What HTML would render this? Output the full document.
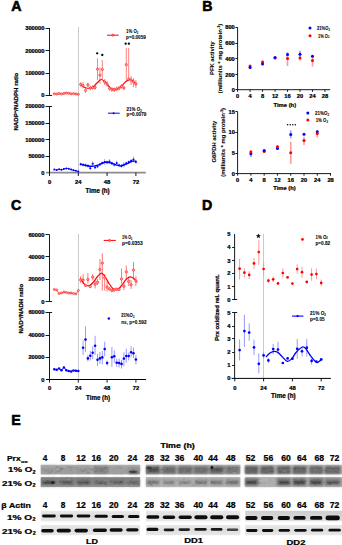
<!DOCTYPE html>
<html><head><meta charset="utf-8"><style>
html,body{margin:0;padding:0;background:#fff;}
svg{display:block;font-family:"Liberation Sans",sans-serif;font-weight:bold;}
</style></head><body>
<svg width="342" height="545" viewBox="0 0 342 545">
<rect width="342" height="545" fill="#fff"/>
<text x="11.20" y="11.20" font-size="14.2" text-anchor="start" fill="#000" stroke="#000" stroke-width="0.6" >A</text>
<text x="202.20" y="11.20" font-size="14.2" text-anchor="start" fill="#000" stroke="#000" stroke-width="0.6" >B</text>
<text x="10.90" y="209.90" font-size="14.2" text-anchor="start" fill="#000" stroke="#000" stroke-width="0.6" >C</text>
<text x="201.90" y="209.90" font-size="14.2" text-anchor="start" fill="#000" stroke="#000" stroke-width="0.6" >D</text>
<text x="11.20" y="424.90" font-size="14.2" text-anchor="start" fill="#000" stroke="#000" stroke-width="0.6" >E</text>
<line x1="78.50" y1="27.00" x2="78.50" y2="172.00" stroke="#bdbdbd" stroke-width="0.8" />
<line x1="49.50" y1="28.00" x2="49.50" y2="95.00" stroke="#000" stroke-width="0.9" />
<line x1="45.50" y1="28.50" x2="49.50" y2="28.50" stroke="#000" stroke-width="0.9" />
<text x="44.50" y="30.09" font-size="5.8" text-anchor="end" fill="#000" stroke="#000" stroke-width="0.24" >300000</text>
<line x1="45.50" y1="50.50" x2="49.50" y2="50.50" stroke="#000" stroke-width="0.9" />
<text x="44.50" y="52.59" font-size="5.8" text-anchor="end" fill="#000" stroke="#000" stroke-width="0.24" >200000</text>
<line x1="45.50" y1="73.50" x2="49.50" y2="73.50" stroke="#000" stroke-width="0.9" />
<text x="44.50" y="75.09" font-size="5.8" text-anchor="end" fill="#000" stroke="#000" stroke-width="0.24" >100000</text>
<line x1="45.50" y1="95.50" x2="52.10" y2="95.50" stroke="#000" stroke-width="0.9" />
<text x="44.50" y="97.09" font-size="5.8" text-anchor="end" fill="#000" stroke="#000" stroke-width="0.24" >0</text>
<line x1="49.50" y1="106.00" x2="49.50" y2="172.60" stroke="#000" stroke-width="0.9" />
<line x1="45.50" y1="106.50" x2="52.10" y2="106.50" stroke="#000" stroke-width="0.9" />
<text x="44.50" y="108.09" font-size="5.8" text-anchor="end" fill="#000" stroke="#000" stroke-width="0.24" >200000</text>
<line x1="45.50" y1="123.50" x2="49.50" y2="123.50" stroke="#000" stroke-width="0.9" />
<text x="44.50" y="125.09" font-size="5.8" text-anchor="end" fill="#000" stroke="#000" stroke-width="0.24" >150000</text>
<line x1="45.50" y1="139.50" x2="49.50" y2="139.50" stroke="#000" stroke-width="0.9" />
<text x="44.50" y="141.59" font-size="5.8" text-anchor="end" fill="#000" stroke="#000" stroke-width="0.24" >100000</text>
<line x1="45.50" y1="156.50" x2="49.50" y2="156.50" stroke="#000" stroke-width="0.9" />
<text x="44.50" y="158.09" font-size="5.8" text-anchor="end" fill="#000" stroke="#000" stroke-width="0.24" >50000</text>
<text x="44.50" y="174.69" font-size="5.8" text-anchor="end" fill="#000" stroke="#000" stroke-width="0.24" >0</text>
<line x1="46.00" y1="172.60" x2="145.80" y2="172.60" stroke="#8c8c8c" stroke-width="1.9" />
<line x1="49.50" y1="171.00" x2="49.50" y2="176.00" stroke="#000" stroke-width="0.9" />
<line x1="78.30" y1="172.60" x2="78.30" y2="176.00" stroke="#000" stroke-width="0.9" />
<line x1="107.10" y1="172.60" x2="107.10" y2="176.00" stroke="#000" stroke-width="0.9" />
<line x1="135.90" y1="172.60" x2="135.90" y2="176.00" stroke="#000" stroke-width="0.9" />
<text x="49.50" y="183.69" font-size="5.8" text-anchor="middle" fill="#000" stroke="#000" stroke-width="0.24" >0</text>
<text x="78.30" y="183.69" font-size="5.8" text-anchor="middle" fill="#000" stroke="#000" stroke-width="0.24" >24</text>
<text x="107.10" y="183.69" font-size="5.8" text-anchor="middle" fill="#000" stroke="#000" stroke-width="0.24" >48</text>
<text x="135.90" y="183.69" font-size="5.8" text-anchor="middle" fill="#000" stroke="#000" stroke-width="0.24" >72</text>
<text x="97.60" y="193.18" font-size="6.6" text-anchor="middle" fill="#000" stroke="#000" stroke-width="0.24" textLength="24.00" lengthAdjust="spacingAndGlyphs" >Time (h)</text>
<text transform="translate(18.30 101.60) rotate(-90)" font-size="6.1" text-anchor="middle" stroke="#000" stroke-width="0.24">NADP<tspan font-size="4" dy="-2">+</tspan><tspan dy="2">/NADPH ratio</tspan></text>
<line x1="80.70" y1="82.30" x2="80.70" y2="86.70" stroke="#ff6a6a" stroke-width="0.85" />
<line x1="83.10" y1="82.00" x2="83.10" y2="88.50" stroke="#ff6a6a" stroke-width="0.85" />
<line x1="85.50" y1="88.30" x2="85.50" y2="92.70" stroke="#ff6a6a" stroke-width="0.85" />
<line x1="87.90" y1="82.70" x2="87.90" y2="87.10" stroke="#ff6a6a" stroke-width="0.85" />
<line x1="90.30" y1="85.80" x2="90.30" y2="90.20" stroke="#ff6a6a" stroke-width="0.85" />
<line x1="92.70" y1="85.30" x2="92.70" y2="89.70" stroke="#ff6a6a" stroke-width="0.85" />
<line x1="95.10" y1="85.30" x2="95.10" y2="89.70" stroke="#ff6a6a" stroke-width="0.85" />
<line x1="97.50" y1="58.50" x2="97.50" y2="80.00" stroke="#ff6a6a" stroke-width="0.85" />
<line x1="99.90" y1="67.50" x2="99.90" y2="84.00" stroke="#ff6a6a" stroke-width="0.85" />
<line x1="102.30" y1="60.00" x2="102.30" y2="79.50" stroke="#ff6a6a" stroke-width="0.85" />
<line x1="104.70" y1="79.00" x2="104.70" y2="85.00" stroke="#ff6a6a" stroke-width="0.85" />
<line x1="107.10" y1="81.00" x2="107.10" y2="87.00" stroke="#ff6a6a" stroke-width="0.85" />
<line x1="109.50" y1="86.30" x2="109.50" y2="90.70" stroke="#ff6a6a" stroke-width="0.85" />
<line x1="111.90" y1="87.30" x2="111.90" y2="91.70" stroke="#ff6a6a" stroke-width="0.85" />
<line x1="114.30" y1="87.60" x2="114.30" y2="92.00" stroke="#ff6a6a" stroke-width="0.85" />
<line x1="116.70" y1="86.60" x2="116.70" y2="91.00" stroke="#ff6a6a" stroke-width="0.85" />
<line x1="119.10" y1="86.00" x2="119.10" y2="90.40" stroke="#ff6a6a" stroke-width="0.85" />
<line x1="121.50" y1="84.30" x2="121.50" y2="88.70" stroke="#ff6a6a" stroke-width="0.85" />
<line x1="123.90" y1="85.70" x2="123.90" y2="90.10" stroke="#ff6a6a" stroke-width="0.85" />
<line x1="126.30" y1="48.00" x2="126.30" y2="81.40" stroke="#ff6a6a" stroke-width="0.85" />
<line x1="128.70" y1="48.00" x2="128.70" y2="81.00" stroke="#ff6a6a" stroke-width="0.85" />
<line x1="131.10" y1="76.00" x2="131.10" y2="85.00" stroke="#ff6a6a" stroke-width="0.85" />
<line x1="133.50" y1="78.00" x2="133.50" y2="87.00" stroke="#ff6a6a" stroke-width="0.85" />
<line x1="135.90" y1="80.00" x2="135.90" y2="88.00" stroke="#ff6a6a" stroke-width="0.85" />
<path d="M54.30,93.80 C54.70,93.85 55.90,94.15 56.70,94.10 C57.50,94.05 58.30,93.53 59.10,93.50 C59.90,93.47 60.70,93.92 61.50,93.90 C62.30,93.88 63.10,93.55 63.90,93.40 C64.70,93.25 65.50,93.02 66.30,93.00 C67.10,92.98 67.90,93.17 68.70,93.30 C69.50,93.43 70.30,93.75 71.10,93.80 C71.90,93.85 72.70,93.57 73.50,93.60 C74.30,93.63 75.10,93.88 75.90,94.00 C76.70,94.12 77.90,94.25 78.30,94.30" stroke="#ff2a2a" stroke-width="0.7" fill="none" stroke-linecap="round" stroke-linejoin="round"/>
<circle cx="54.30" cy="93.80" r="1.1" fill="#ff9a9a" stroke="#ff2a2a" stroke-width="0.65"/>
<circle cx="56.70" cy="94.10" r="1.1" fill="#ff9a9a" stroke="#ff2a2a" stroke-width="0.65"/>
<circle cx="59.10" cy="93.50" r="1.1" fill="#ff9a9a" stroke="#ff2a2a" stroke-width="0.65"/>
<circle cx="61.50" cy="93.90" r="1.1" fill="#ff9a9a" stroke="#ff2a2a" stroke-width="0.65"/>
<circle cx="63.90" cy="93.40" r="1.1" fill="#ff9a9a" stroke="#ff2a2a" stroke-width="0.65"/>
<circle cx="66.30" cy="93.00" r="1.1" fill="#ff9a9a" stroke="#ff2a2a" stroke-width="0.65"/>
<circle cx="68.70" cy="93.30" r="1.1" fill="#ff9a9a" stroke="#ff2a2a" stroke-width="0.65"/>
<circle cx="71.10" cy="93.80" r="1.1" fill="#ff9a9a" stroke="#ff2a2a" stroke-width="0.65"/>
<circle cx="73.50" cy="93.60" r="1.1" fill="#ff9a9a" stroke="#ff2a2a" stroke-width="0.65"/>
<circle cx="75.90" cy="94.00" r="1.1" fill="#ff9a9a" stroke="#ff2a2a" stroke-width="0.65"/>
<circle cx="78.30" cy="94.30" r="1.1" fill="#ff9a9a" stroke="#ff2a2a" stroke-width="0.65"/>
<path d="M80.30,83.90 C80.83,84.38 82.52,86.12 83.50,86.80 C84.48,87.48 85.20,87.77 86.20,88.00 C87.20,88.23 88.45,88.27 89.50,88.20 C90.55,88.13 91.25,88.47 92.50,87.60 C93.75,86.73 95.52,84.35 97.00,83.00 C98.48,81.65 99.90,79.50 101.40,79.50 C102.90,79.50 104.57,81.65 106.00,83.00 C107.43,84.35 108.67,86.55 110.00,87.60 C111.33,88.65 112.67,89.13 114.00,89.30 C115.33,89.47 116.67,89.23 118.00,88.60 C119.33,87.97 120.67,86.68 122.00,85.50 C123.33,84.32 124.58,82.50 126.00,81.50 C127.42,80.50 129.25,79.50 130.50,79.50 C131.75,79.50 132.60,80.75 133.50,81.50 C134.40,82.25 135.50,83.58 135.90,84.00" stroke="#ff0000" stroke-width="1.2" fill="none" stroke-linecap="round" stroke-linejoin="round"/>
<circle cx="80.70" cy="84.50" r="1.15" fill="#ff9a9a" stroke="#ff2a2a" stroke-width="0.65"/>
<circle cx="83.10" cy="85.60" r="1.15" fill="#ff9a9a" stroke="#ff2a2a" stroke-width="0.65"/>
<circle cx="85.50" cy="90.50" r="1.15" fill="#ff9a9a" stroke="#ff2a2a" stroke-width="0.65"/>
<circle cx="87.90" cy="84.90" r="1.15" fill="#ff9a9a" stroke="#ff2a2a" stroke-width="0.65"/>
<circle cx="90.30" cy="88.00" r="1.15" fill="#ff9a9a" stroke="#ff2a2a" stroke-width="0.65"/>
<circle cx="92.70" cy="87.50" r="1.15" fill="#ff9a9a" stroke="#ff2a2a" stroke-width="0.65"/>
<circle cx="95.10" cy="87.50" r="1.15" fill="#ff9a9a" stroke="#ff2a2a" stroke-width="0.65"/>
<circle cx="97.50" cy="69.20" r="1.15" fill="#ff9a9a" stroke="#ff2a2a" stroke-width="0.65"/>
<circle cx="99.90" cy="75.10" r="1.15" fill="#ff9a9a" stroke="#ff2a2a" stroke-width="0.65"/>
<circle cx="102.30" cy="69.50" r="1.15" fill="#ff9a9a" stroke="#ff2a2a" stroke-width="0.65"/>
<circle cx="104.70" cy="82.00" r="1.15" fill="#ff9a9a" stroke="#ff2a2a" stroke-width="0.65"/>
<circle cx="107.10" cy="84.00" r="1.15" fill="#ff9a9a" stroke="#ff2a2a" stroke-width="0.65"/>
<circle cx="109.50" cy="88.50" r="1.15" fill="#ff9a9a" stroke="#ff2a2a" stroke-width="0.65"/>
<circle cx="111.90" cy="89.50" r="1.15" fill="#ff9a9a" stroke="#ff2a2a" stroke-width="0.65"/>
<circle cx="114.30" cy="89.80" r="1.15" fill="#ff9a9a" stroke="#ff2a2a" stroke-width="0.65"/>
<circle cx="116.70" cy="88.80" r="1.15" fill="#ff9a9a" stroke="#ff2a2a" stroke-width="0.65"/>
<circle cx="119.10" cy="88.20" r="1.15" fill="#ff9a9a" stroke="#ff2a2a" stroke-width="0.65"/>
<circle cx="121.50" cy="86.50" r="1.15" fill="#ff9a9a" stroke="#ff2a2a" stroke-width="0.65"/>
<circle cx="123.90" cy="87.90" r="1.15" fill="#ff9a9a" stroke="#ff2a2a" stroke-width="0.65"/>
<circle cx="126.30" cy="64.70" r="1.15" fill="#ff9a9a" stroke="#ff2a2a" stroke-width="0.65"/>
<circle cx="128.70" cy="79.00" r="1.15" fill="#ff9a9a" stroke="#ff2a2a" stroke-width="0.65"/>
<circle cx="131.10" cy="80.00" r="1.15" fill="#ff9a9a" stroke="#ff2a2a" stroke-width="0.65"/>
<circle cx="133.50" cy="82.00" r="1.15" fill="#ff9a9a" stroke="#ff2a2a" stroke-width="0.65"/>
<circle cx="135.90" cy="84.00" r="1.15" fill="#ff9a9a" stroke="#ff2a2a" stroke-width="0.65"/>
<circle cx="97.20" cy="53.30" r="1.15" fill="#000"/>
<circle cx="102.30" cy="55.00" r="1.15" fill="#000"/>
<circle cx="125.70" cy="43.70" r="1.15" fill="#000"/>
<circle cx="128.90" cy="43.70" r="1.15" fill="#000"/>
<line x1="107.00" y1="35.20" x2="118.70" y2="35.20" stroke="#ff0000" stroke-width="1.0" />
<circle cx="112.90" cy="35.20" r="1.0" fill="#ff9a9a" stroke="#ff0000" stroke-width="0.65"/>
<text x="126.10" y="32.90" font-size="4.7" text-anchor="start" fill="#000" stroke="#000" stroke-width="0.06" textLength="12.30" lengthAdjust="spacingAndGlyphs" >1% O<tspan font-size="3.0" dy="0.9">2</tspan></text>
<text x="126.10" y="38.70" font-size="4.7" text-anchor="start" fill="#000" stroke="#000" stroke-width="0.06" textLength="19.80" lengthAdjust="spacingAndGlyphs" >p=0.0059</text>
<path d="M54.30,169.40 C54.70,169.50 55.90,170.02 56.70,170.00 C57.50,169.98 58.30,169.33 59.10,169.30 C59.90,169.27 60.70,169.87 61.50,169.80 C62.30,169.73 63.10,169.13 63.90,168.90 C64.70,168.67 65.50,168.42 66.30,168.40 C67.10,168.38 67.90,168.62 68.70,168.80 C69.50,168.98 70.30,169.27 71.10,169.50 C71.90,169.73 72.70,169.98 73.50,170.20 C74.30,170.42 75.10,170.60 75.90,170.80 C76.70,171.00 77.90,171.30 78.30,171.40" stroke="#0000ff" stroke-width="0.8" fill="none" stroke-linecap="round" stroke-linejoin="round"/>
<circle cx="54.30" cy="169.40" r="1.0" fill="#0000ff"/>
<circle cx="56.70" cy="170.00" r="1.0" fill="#0000ff"/>
<circle cx="59.10" cy="169.30" r="1.0" fill="#0000ff"/>
<circle cx="61.50" cy="169.80" r="1.0" fill="#0000ff"/>
<circle cx="63.90" cy="168.90" r="1.0" fill="#0000ff"/>
<circle cx="66.30" cy="168.40" r="1.0" fill="#0000ff"/>
<circle cx="68.70" cy="168.80" r="1.0" fill="#0000ff"/>
<circle cx="71.10" cy="169.50" r="1.0" fill="#0000ff"/>
<circle cx="73.50" cy="170.20" r="1.0" fill="#0000ff"/>
<circle cx="75.90" cy="170.80" r="1.0" fill="#0000ff"/>
<circle cx="78.30" cy="171.40" r="1.0" fill="#0000ff"/>
<line x1="80.70" y1="162.50" x2="80.70" y2="166.10" stroke="#9a9aff" stroke-width="0.8" />
<line x1="83.10" y1="163.00" x2="83.10" y2="166.60" stroke="#9a9aff" stroke-width="0.8" />
<line x1="85.50" y1="163.40" x2="85.50" y2="167.00" stroke="#9a9aff" stroke-width="0.8" />
<line x1="87.90" y1="164.00" x2="87.90" y2="167.60" stroke="#9a9aff" stroke-width="0.8" />
<line x1="90.30" y1="166.50" x2="90.30" y2="170.10" stroke="#9a9aff" stroke-width="0.8" />
<line x1="92.70" y1="161.00" x2="92.70" y2="166.50" stroke="#9a9aff" stroke-width="0.8" />
<line x1="95.10" y1="165.70" x2="95.10" y2="169.30" stroke="#9a9aff" stroke-width="0.8" />
<line x1="97.50" y1="164.70" x2="97.50" y2="168.30" stroke="#9a9aff" stroke-width="0.8" />
<line x1="99.90" y1="162.70" x2="99.90" y2="166.30" stroke="#9a9aff" stroke-width="0.8" />
<line x1="102.30" y1="161.20" x2="102.30" y2="164.80" stroke="#9a9aff" stroke-width="0.8" />
<line x1="104.70" y1="159.00" x2="104.70" y2="165.00" stroke="#9a9aff" stroke-width="0.8" />
<line x1="107.10" y1="160.70" x2="107.10" y2="164.30" stroke="#9a9aff" stroke-width="0.8" />
<line x1="109.50" y1="159.00" x2="109.50" y2="164.00" stroke="#9a9aff" stroke-width="0.8" />
<line x1="111.90" y1="161.60" x2="111.90" y2="165.20" stroke="#9a9aff" stroke-width="0.8" />
<line x1="114.30" y1="162.90" x2="114.30" y2="166.50" stroke="#9a9aff" stroke-width="0.8" />
<line x1="116.70" y1="160.50" x2="116.70" y2="165.50" stroke="#9a9aff" stroke-width="0.8" />
<line x1="119.10" y1="163.40" x2="119.10" y2="167.00" stroke="#9a9aff" stroke-width="0.8" />
<line x1="121.50" y1="164.20" x2="121.50" y2="167.80" stroke="#9a9aff" stroke-width="0.8" />
<line x1="123.90" y1="162.00" x2="123.90" y2="167.50" stroke="#9a9aff" stroke-width="0.8" />
<line x1="126.30" y1="161.60" x2="126.30" y2="165.20" stroke="#9a9aff" stroke-width="0.8" />
<line x1="128.70" y1="160.30" x2="128.70" y2="163.90" stroke="#9a9aff" stroke-width="0.8" />
<line x1="131.10" y1="159.00" x2="131.10" y2="162.60" stroke="#9a9aff" stroke-width="0.8" />
<line x1="133.50" y1="156.40" x2="133.50" y2="162.50" stroke="#9a9aff" stroke-width="0.8" />
<line x1="135.90" y1="160.20" x2="135.90" y2="163.80" stroke="#9a9aff" stroke-width="0.8" />
<path d="M80.50,164.20 C81.42,164.42 84.25,165.15 86.00,165.50 C87.75,165.85 89.17,166.32 91.00,166.30 C92.83,166.28 95.00,165.95 97.00,165.40 C99.00,164.85 101.42,163.57 103.00,163.00 C104.58,162.43 105.17,162.00 106.50,162.00 C107.83,162.00 109.42,162.53 111.00,163.00 C112.58,163.47 114.33,164.33 116.00,164.80 C117.67,165.27 119.17,166.00 121.00,165.80 C122.83,165.60 125.17,164.35 127.00,163.60 C128.83,162.85 130.52,161.70 132.00,161.30 C133.48,160.90 135.25,161.22 135.90,161.20" stroke="#0000ff" stroke-width="1.4" fill="none" stroke-linecap="round" stroke-linejoin="round"/>
<circle cx="80.70" cy="164.30" r="1.05" fill="#0000ff"/>
<circle cx="83.10" cy="164.80" r="1.05" fill="#0000ff"/>
<circle cx="85.50" cy="165.20" r="1.05" fill="#0000ff"/>
<circle cx="87.90" cy="165.80" r="1.05" fill="#0000ff"/>
<circle cx="90.30" cy="168.30" r="1.05" fill="#0000ff"/>
<circle cx="92.70" cy="163.80" r="1.05" fill="#0000ff"/>
<circle cx="95.10" cy="167.50" r="1.05" fill="#0000ff"/>
<circle cx="97.50" cy="166.50" r="1.05" fill="#0000ff"/>
<circle cx="99.90" cy="164.50" r="1.05" fill="#0000ff"/>
<circle cx="102.30" cy="163.00" r="1.05" fill="#0000ff"/>
<circle cx="104.70" cy="162.00" r="1.05" fill="#0000ff"/>
<circle cx="107.10" cy="162.50" r="1.05" fill="#0000ff"/>
<circle cx="109.50" cy="161.50" r="1.05" fill="#0000ff"/>
<circle cx="111.90" cy="163.40" r="1.05" fill="#0000ff"/>
<circle cx="114.30" cy="164.70" r="1.05" fill="#0000ff"/>
<circle cx="116.70" cy="163.00" r="1.05" fill="#0000ff"/>
<circle cx="119.10" cy="165.20" r="1.05" fill="#0000ff"/>
<circle cx="121.50" cy="166.00" r="1.05" fill="#0000ff"/>
<circle cx="123.90" cy="164.70" r="1.05" fill="#0000ff"/>
<circle cx="126.30" cy="163.40" r="1.05" fill="#0000ff"/>
<circle cx="128.70" cy="162.10" r="1.05" fill="#0000ff"/>
<circle cx="131.10" cy="160.80" r="1.05" fill="#0000ff"/>
<circle cx="133.50" cy="159.50" r="1.05" fill="#0000ff"/>
<circle cx="135.90" cy="162.00" r="1.05" fill="#0000ff"/>
<line x1="107.90" y1="113.20" x2="119.70" y2="113.20" stroke="#0000ff" stroke-width="1.0" />
<circle cx="113.60" cy="113.20" r="1.0" fill="#0000ff"/>
<text x="126.60" y="110.60" font-size="4.7" text-anchor="start" fill="#000" stroke="#000" stroke-width="0.06" textLength="15.30" lengthAdjust="spacingAndGlyphs" >21% O<tspan font-size="3.0" dy="0.9">2</tspan></text>
<text x="126.60" y="116.30" font-size="4.7" text-anchor="start" fill="#000" stroke="#000" stroke-width="0.06" textLength="19.70" lengthAdjust="spacingAndGlyphs" >p=0.0079</text>
<line x1="237.60" y1="27.30" x2="237.60" y2="89.70" stroke="#000" stroke-width="0.9" />
<line x1="235.40" y1="27.50" x2="237.60" y2="27.50" stroke="#000" stroke-width="0.9" />
<text x="234.80" y="29.35" font-size="5.7" text-anchor="end" fill="#000" stroke="#000" stroke-width="0.24" >800</text>
<line x1="235.40" y1="43.50" x2="237.60" y2="43.50" stroke="#000" stroke-width="0.9" />
<text x="234.80" y="45.25" font-size="5.7" text-anchor="end" fill="#000" stroke="#000" stroke-width="0.24" >600</text>
<line x1="235.40" y1="58.50" x2="237.60" y2="58.50" stroke="#000" stroke-width="0.9" />
<text x="234.80" y="60.95" font-size="5.7" text-anchor="end" fill="#000" stroke="#000" stroke-width="0.24" >400</text>
<line x1="235.40" y1="74.50" x2="237.60" y2="74.50" stroke="#000" stroke-width="0.9" />
<text x="234.80" y="76.55" font-size="5.7" text-anchor="end" fill="#000" stroke="#000" stroke-width="0.24" >200</text>
<line x1="235.40" y1="89.50" x2="237.60" y2="89.50" stroke="#000" stroke-width="0.9" />
<text x="234.80" y="91.75" font-size="5.7" text-anchor="end" fill="#000" stroke="#000" stroke-width="0.24" >0</text>
<line x1="237.60" y1="89.70" x2="330.20" y2="89.70" stroke="#000" stroke-width="0.9" />
<line x1="237.60" y1="89.70" x2="237.60" y2="91.80" stroke="#000" stroke-width="0.9" />
<text x="237.60" y="98.35" font-size="5.7" text-anchor="middle" fill="#000" stroke="#000" stroke-width="0.24" >0</text>
<line x1="250.08" y1="89.70" x2="250.08" y2="91.80" stroke="#000" stroke-width="0.9" />
<text x="250.08" y="98.35" font-size="5.7" text-anchor="middle" fill="#000" stroke="#000" stroke-width="0.24" >4</text>
<line x1="262.56" y1="89.70" x2="262.56" y2="91.80" stroke="#000" stroke-width="0.9" />
<text x="262.56" y="98.35" font-size="5.7" text-anchor="middle" fill="#000" stroke="#000" stroke-width="0.24" >8</text>
<line x1="275.04" y1="89.70" x2="275.04" y2="91.80" stroke="#000" stroke-width="0.9" />
<text x="275.04" y="98.35" font-size="5.7" text-anchor="middle" fill="#000" stroke="#000" stroke-width="0.24" >12</text>
<line x1="287.52" y1="89.70" x2="287.52" y2="91.80" stroke="#000" stroke-width="0.9" />
<text x="287.52" y="98.35" font-size="5.7" text-anchor="middle" fill="#000" stroke="#000" stroke-width="0.24" >16</text>
<line x1="300.00" y1="89.70" x2="300.00" y2="91.80" stroke="#000" stroke-width="0.9" />
<text x="300.00" y="98.35" font-size="5.7" text-anchor="middle" fill="#000" stroke="#000" stroke-width="0.24" >20</text>
<line x1="312.48" y1="89.70" x2="312.48" y2="91.80" stroke="#000" stroke-width="0.9" />
<text x="312.48" y="98.35" font-size="5.7" text-anchor="middle" fill="#000" stroke="#000" stroke-width="0.24" >24</text>
<line x1="324.96" y1="89.70" x2="324.96" y2="91.80" stroke="#000" stroke-width="0.9" />
<text x="324.96" y="98.35" font-size="5.7" text-anchor="middle" fill="#000" stroke="#000" stroke-width="0.24" >28</text>
<text x="284.80" y="106.53" font-size="6.2" text-anchor="middle" fill="#000" stroke="#000" stroke-width="0.24" textLength="22.60" lengthAdjust="spacingAndGlyphs" >Time (h)</text>
<text transform="translate(213.60 58.20) rotate(-90)" font-size="5.6" text-anchor="middle" stroke="#000" stroke-width="0.08" textLength="33.70" lengthAdjust="spacingAndGlyphs">PFK activity</text>
<text transform="translate(221.60 58.50) rotate(-90)" font-size="5.6" text-anchor="middle" stroke="#000" stroke-width="0.08" textLength="69.60" lengthAdjust="spacingAndGlyphs">(milliunits * mg protein<tspan font-size="3.6" dy="-2">-1</tspan><tspan dy="2">)</tspan></text>
<line x1="287.52" y1="52.50" x2="287.52" y2="66.00" stroke="#ff9a9a" stroke-width="1.6" />
<line x1="300.00" y1="56.00" x2="300.00" y2="60.50" stroke="#ff9a9a" stroke-width="1.6" />
<line x1="312.48" y1="55.00" x2="312.48" y2="66.50" stroke="#ff9a9a" stroke-width="1.6" />
<line x1="262.56" y1="60.50" x2="262.56" y2="63.50" stroke="#ff9a9a" stroke-width="1.6" />
<line x1="300.00" y1="50.70" x2="300.00" y2="57.00" stroke="#9a9aff" stroke-width="1.6" />
<line x1="287.52" y1="52.50" x2="287.52" y2="56.50" stroke="#9a9aff" stroke-width="1.6" />
<line x1="250.08" y1="65.50" x2="250.08" y2="69.00" stroke="#9a9aff" stroke-width="1.6" />
<circle cx="250.08" cy="66.00" r="1.5" fill="#ff0000"/>
<circle cx="250.08" cy="67.40" r="1.5" fill="#0000ff"/>
<circle cx="262.56" cy="62.10" r="1.5" fill="#ff0000"/>
<circle cx="262.56" cy="63.90" r="1.5" fill="#0000ff"/>
<circle cx="275.04" cy="57.90" r="1.5" fill="#ff0000"/>
<circle cx="275.04" cy="57.40" r="1.5" fill="#0000ff"/>
<circle cx="287.52" cy="54.40" r="1.5" fill="#0000ff"/>
<circle cx="287.52" cy="58.60" r="1.5" fill="#ff0000"/>
<circle cx="300.00" cy="54.20" r="1.5" fill="#0000ff"/>
<circle cx="300.00" cy="58.10" r="1.5" fill="#ff0000"/>
<circle cx="312.48" cy="56.30" r="1.5" fill="#0000ff"/>
<circle cx="312.48" cy="60.40" r="1.5" fill="#ff0000"/>
<circle cx="310.00" cy="27.90" r="1.5" fill="#0000ff"/>
<circle cx="310.00" cy="35.80" r="1.5" fill="#ff0000"/>
<text x="317.00" y="29.60" font-size="4.6" text-anchor="start" fill="#000" stroke="#000" stroke-width="0.06" textLength="13.00" lengthAdjust="spacingAndGlyphs" >21%O<tspan font-size="3.0" dy="0.9">2</tspan></text>
<text x="318.00" y="37.50" font-size="4.6" text-anchor="start" fill="#000" stroke="#000" stroke-width="0.06" textLength="11.40" lengthAdjust="spacingAndGlyphs" >1% O<tspan font-size="3.0" dy="0.9">2</tspan></text>
<line x1="237.60" y1="111.60" x2="237.60" y2="173.60" stroke="#000" stroke-width="0.9" />
<line x1="235.40" y1="111.50" x2="237.60" y2="111.50" stroke="#000" stroke-width="0.9" />
<text x="234.80" y="113.65" font-size="5.7" text-anchor="end" fill="#000" stroke="#000" stroke-width="0.24" >15</text>
<line x1="235.40" y1="132.50" x2="237.60" y2="132.50" stroke="#000" stroke-width="0.9" />
<text x="234.80" y="134.45" font-size="5.7" text-anchor="end" fill="#000" stroke="#000" stroke-width="0.24" >10</text>
<line x1="235.40" y1="153.50" x2="237.60" y2="153.50" stroke="#000" stroke-width="0.9" />
<text x="234.80" y="155.35" font-size="5.7" text-anchor="end" fill="#000" stroke="#000" stroke-width="0.24" >5</text>
<line x1="235.40" y1="173.50" x2="237.60" y2="173.50" stroke="#000" stroke-width="0.9" />
<text x="234.80" y="175.65" font-size="5.7" text-anchor="end" fill="#000" stroke="#000" stroke-width="0.24" >0</text>
<line x1="237.60" y1="173.60" x2="331.00" y2="173.60" stroke="#000" stroke-width="0.9" />
<line x1="237.60" y1="173.60" x2="237.60" y2="175.70" stroke="#000" stroke-width="0.9" />
<text x="237.60" y="182.15" font-size="5.7" text-anchor="middle" fill="#000" stroke="#000" stroke-width="0.24" >0</text>
<line x1="250.88" y1="173.60" x2="250.88" y2="175.70" stroke="#000" stroke-width="0.9" />
<text x="250.88" y="182.15" font-size="5.7" text-anchor="middle" fill="#000" stroke="#000" stroke-width="0.24" >4</text>
<line x1="264.16" y1="173.60" x2="264.16" y2="175.70" stroke="#000" stroke-width="0.9" />
<text x="264.16" y="182.15" font-size="5.7" text-anchor="middle" fill="#000" stroke="#000" stroke-width="0.24" >8</text>
<line x1="277.44" y1="173.60" x2="277.44" y2="175.70" stroke="#000" stroke-width="0.9" />
<text x="277.44" y="182.15" font-size="5.7" text-anchor="middle" fill="#000" stroke="#000" stroke-width="0.24" >12</text>
<line x1="290.72" y1="173.60" x2="290.72" y2="175.70" stroke="#000" stroke-width="0.9" />
<text x="290.72" y="182.15" font-size="5.7" text-anchor="middle" fill="#000" stroke="#000" stroke-width="0.24" >16</text>
<line x1="304.00" y1="173.60" x2="304.00" y2="175.70" stroke="#000" stroke-width="0.9" />
<text x="304.00" y="182.15" font-size="5.7" text-anchor="middle" fill="#000" stroke="#000" stroke-width="0.24" >20</text>
<line x1="317.28" y1="173.60" x2="317.28" y2="175.70" stroke="#000" stroke-width="0.9" />
<text x="317.28" y="182.15" font-size="5.7" text-anchor="middle" fill="#000" stroke="#000" stroke-width="0.24" >24</text>
<line x1="330.56" y1="173.60" x2="330.56" y2="175.70" stroke="#000" stroke-width="0.9" />
<text x="330.56" y="182.15" font-size="5.7" text-anchor="middle" fill="#000" stroke="#000" stroke-width="0.24" >28</text>
<text x="284.50" y="189.53" font-size="6.2" text-anchor="middle" fill="#000" stroke="#000" stroke-width="0.24" textLength="22.60" lengthAdjust="spacingAndGlyphs" >Time (h)</text>
<text transform="translate(216.30 141.60) rotate(-90)" font-size="5.6" text-anchor="middle" stroke="#000" stroke-width="0.08" textLength="41.90" lengthAdjust="spacingAndGlyphs">G6PDH activity</text>
<text transform="translate(225.00 142.30) rotate(-90)" font-size="5.6" text-anchor="middle" stroke="#000" stroke-width="0.08" textLength="68.80" lengthAdjust="spacingAndGlyphs">(milliunits * mg protein<tspan font-size="3.6" dy="-2">-1</tspan><tspan dy="2">)</tspan></text>
<line x1="290.72" y1="141.80" x2="290.72" y2="163.80" stroke="#ff9a9a" stroke-width="1.6" />
<line x1="304.00" y1="137.00" x2="304.00" y2="145.00" stroke="#ff9a9a" stroke-width="1.6" />
<line x1="317.28" y1="131.00" x2="317.28" y2="137.50" stroke="#ff9a9a" stroke-width="1.6" />
<line x1="250.88" y1="150.00" x2="250.88" y2="154.50" stroke="#ff9a9a" stroke-width="1.6" />
<line x1="277.44" y1="145.00" x2="277.44" y2="149.00" stroke="#ff9a9a" stroke-width="1.6" />
<line x1="290.72" y1="130.40" x2="290.72" y2="138.30" stroke="#9a9aff" stroke-width="1.6" />
<line x1="250.88" y1="150.50" x2="250.88" y2="157.00" stroke="#9a9aff" stroke-width="1.6" />
<line x1="317.28" y1="130.00" x2="317.28" y2="133.50" stroke="#9a9aff" stroke-width="1.6" />
<circle cx="250.88" cy="153.80" r="1.5" fill="#0000ff"/>
<circle cx="250.88" cy="152.00" r="1.5" fill="#ff0000"/>
<circle cx="264.16" cy="151.50" r="1.5" fill="#ff0000"/>
<circle cx="264.16" cy="150.60" r="1.5" fill="#0000ff"/>
<circle cx="277.44" cy="148.50" r="1.5" fill="#0000ff"/>
<circle cx="277.44" cy="146.80" r="1.5" fill="#ff0000"/>
<circle cx="290.72" cy="134.50" r="1.5" fill="#0000ff"/>
<circle cx="290.72" cy="152.70" r="1.5" fill="#ff0000"/>
<circle cx="304.00" cy="134.30" r="1.5" fill="#0000ff"/>
<circle cx="304.00" cy="140.40" r="1.5" fill="#ff0000"/>
<circle cx="317.28" cy="131.70" r="1.5" fill="#0000ff"/>
<circle cx="317.28" cy="133.40" r="1.5" fill="#ff0000"/>
<circle cx="287.60" cy="124.70" r="0.75" fill="#000"/>
<circle cx="290.20" cy="124.70" r="0.75" fill="#000"/>
<circle cx="292.80" cy="124.70" r="0.75" fill="#000"/>
<circle cx="295.40" cy="124.70" r="0.75" fill="#000"/>
<circle cx="307.80" cy="112.90" r="1.5" fill="#0000ff"/>
<circle cx="307.80" cy="119.90" r="1.5" fill="#ff0000"/>
<text x="315.00" y="114.60" font-size="4.6" text-anchor="start" fill="#000" stroke="#000" stroke-width="0.06" textLength="14.00" lengthAdjust="spacingAndGlyphs" >21%O<tspan font-size="3.0" dy="0.9">2</tspan></text>
<text x="315.70" y="121.60" font-size="4.6" text-anchor="start" fill="#000" stroke="#000" stroke-width="0.06" textLength="12.30" lengthAdjust="spacingAndGlyphs" >1% O<tspan font-size="3.0" dy="0.9">2</tspan></text>
<line x1="78.50" y1="234.00" x2="78.50" y2="379.00" stroke="#bdbdbd" stroke-width="0.8" />
<line x1="49.50" y1="234.60" x2="49.50" y2="301.70" stroke="#000" stroke-width="0.9" />
<line x1="45.50" y1="234.50" x2="49.50" y2="234.50" stroke="#000" stroke-width="0.9" />
<text x="44.50" y="236.69" font-size="5.8" text-anchor="end" fill="#000" stroke="#000" stroke-width="0.24" >60000</text>
<line x1="45.50" y1="256.50" x2="49.50" y2="256.50" stroke="#000" stroke-width="0.9" />
<text x="44.50" y="258.99" font-size="5.8" text-anchor="end" fill="#000" stroke="#000" stroke-width="0.24" >40000</text>
<line x1="45.50" y1="279.50" x2="49.50" y2="279.50" stroke="#000" stroke-width="0.9" />
<text x="44.50" y="281.49" font-size="5.8" text-anchor="end" fill="#000" stroke="#000" stroke-width="0.24" >20000</text>
<line x1="45.50" y1="301.50" x2="52.10" y2="301.50" stroke="#000" stroke-width="0.9" />
<text x="44.50" y="303.79" font-size="5.8" text-anchor="end" fill="#000" stroke="#000" stroke-width="0.24" >0</text>
<line x1="49.50" y1="312.40" x2="49.50" y2="379.50" stroke="#000" stroke-width="0.9" />
<line x1="45.50" y1="312.50" x2="52.10" y2="312.50" stroke="#000" stroke-width="0.9" />
<text x="44.50" y="314.49" font-size="5.8" text-anchor="end" fill="#000" stroke="#000" stroke-width="0.24" >60000</text>
<line x1="45.50" y1="335.50" x2="49.50" y2="335.50" stroke="#000" stroke-width="0.9" />
<text x="44.50" y="337.19" font-size="5.8" text-anchor="end" fill="#000" stroke="#000" stroke-width="0.24" >40000</text>
<line x1="45.50" y1="357.50" x2="49.50" y2="357.50" stroke="#000" stroke-width="0.9" />
<text x="44.50" y="359.49" font-size="5.8" text-anchor="end" fill="#000" stroke="#000" stroke-width="0.24" >20000</text>
<text x="44.50" y="381.59" font-size="5.8" text-anchor="end" fill="#000" stroke="#000" stroke-width="0.24" >0</text>
<line x1="46.00" y1="379.50" x2="146.10" y2="379.50" stroke="#000" stroke-width="1.1" />
<line x1="49.50" y1="379.50" x2="49.50" y2="382.60" stroke="#000" stroke-width="0.9" />
<text x="49.50" y="390.39" font-size="5.8" text-anchor="middle" fill="#000" stroke="#000" stroke-width="0.24" >0</text>
<line x1="78.30" y1="379.50" x2="78.30" y2="382.60" stroke="#000" stroke-width="0.9" />
<text x="78.30" y="390.39" font-size="5.8" text-anchor="middle" fill="#000" stroke="#000" stroke-width="0.24" >24</text>
<line x1="107.10" y1="379.50" x2="107.10" y2="382.60" stroke="#000" stroke-width="0.9" />
<text x="107.10" y="390.39" font-size="5.8" text-anchor="middle" fill="#000" stroke="#000" stroke-width="0.24" >48</text>
<line x1="135.90" y1="379.50" x2="135.90" y2="382.60" stroke="#000" stroke-width="0.9" />
<text x="135.90" y="390.39" font-size="5.8" text-anchor="middle" fill="#000" stroke="#000" stroke-width="0.24" >72</text>
<text x="98.00" y="399.98" font-size="6.6" text-anchor="middle" fill="#000" stroke="#000" stroke-width="0.24" textLength="24.00" lengthAdjust="spacingAndGlyphs" >Time (h)</text>
<text transform="translate(23.20 308.70) rotate(-90)" font-size="6.1" text-anchor="middle" stroke="#000" stroke-width="0.24">NAD<tspan font-size="4" dy="-2">+</tspan><tspan dy="2">/NADH ratio</tspan></text>
<path d="M54.30,289.50 C54.70,289.58 55.90,289.33 56.70,290.00 C57.50,290.67 58.30,293.00 59.10,293.50 C59.90,294.00 60.70,293.25 61.50,293.00 C62.30,292.75 63.10,292.08 63.90,292.00 C64.70,291.92 65.50,292.33 66.30,292.50 C67.10,292.67 67.90,292.92 68.70,293.00 C69.50,293.08 70.30,292.92 71.10,293.00 C71.90,293.08 72.70,293.37 73.50,293.50 C74.30,293.63 75.10,294.30 75.90,293.80 C76.70,293.30 77.90,291.05 78.30,290.50" stroke="#ff2a2a" stroke-width="0.7" fill="none" stroke-linecap="round" stroke-linejoin="round"/>
<circle cx="54.30" cy="289.50" r="1.05" fill="#ff9a9a" stroke="#ff2a2a" stroke-width="0.65"/>
<circle cx="56.70" cy="290.00" r="1.05" fill="#ff9a9a" stroke="#ff2a2a" stroke-width="0.65"/>
<circle cx="59.10" cy="293.50" r="1.05" fill="#ff9a9a" stroke="#ff2a2a" stroke-width="0.65"/>
<circle cx="61.50" cy="293.00" r="1.05" fill="#ff9a9a" stroke="#ff2a2a" stroke-width="0.65"/>
<circle cx="63.90" cy="292.00" r="1.05" fill="#ff9a9a" stroke="#ff2a2a" stroke-width="0.65"/>
<circle cx="66.30" cy="292.50" r="1.05" fill="#ff9a9a" stroke="#ff2a2a" stroke-width="0.65"/>
<circle cx="68.70" cy="293.00" r="1.05" fill="#ff9a9a" stroke="#ff2a2a" stroke-width="0.65"/>
<circle cx="71.10" cy="293.00" r="1.05" fill="#ff9a9a" stroke="#ff2a2a" stroke-width="0.65"/>
<circle cx="73.50" cy="293.50" r="1.05" fill="#ff9a9a" stroke="#ff2a2a" stroke-width="0.65"/>
<circle cx="75.90" cy="293.80" r="1.05" fill="#ff9a9a" stroke="#ff2a2a" stroke-width="0.65"/>
<circle cx="78.30" cy="290.50" r="1.05" fill="#ff9a9a" stroke="#ff2a2a" stroke-width="0.65"/>
<line x1="80.70" y1="276.00" x2="80.70" y2="283.00" stroke="#ff6a6a" stroke-width="0.9" />
<line x1="83.10" y1="274.20" x2="83.10" y2="283.60" stroke="#ff6a6a" stroke-width="0.9" />
<line x1="85.50" y1="283.90" x2="85.50" y2="286.90" stroke="#ff6a6a" stroke-width="0.9" />
<line x1="87.90" y1="273.00" x2="87.90" y2="283.60" stroke="#ff6a6a" stroke-width="0.9" />
<line x1="90.30" y1="285.00" x2="90.30" y2="288.00" stroke="#ff6a6a" stroke-width="0.9" />
<line x1="92.70" y1="274.00" x2="92.70" y2="280.50" stroke="#ff6a6a" stroke-width="0.9" />
<line x1="95.10" y1="280.00" x2="95.10" y2="288.50" stroke="#ff6a6a" stroke-width="0.9" />
<line x1="97.50" y1="279.00" x2="97.50" y2="285.00" stroke="#ff6a6a" stroke-width="0.9" />
<line x1="99.90" y1="259.00" x2="99.90" y2="280.00" stroke="#ff6a6a" stroke-width="0.9" />
<line x1="102.30" y1="253.20" x2="102.30" y2="290.60" stroke="#ff6a6a" stroke-width="0.9" />
<line x1="104.70" y1="274.00" x2="104.70" y2="290.60" stroke="#ff6a6a" stroke-width="0.9" />
<line x1="107.10" y1="281.00" x2="107.10" y2="291.50" stroke="#ff6a6a" stroke-width="0.9" />
<line x1="109.50" y1="287.50" x2="109.50" y2="290.50" stroke="#ff6a6a" stroke-width="0.9" />
<line x1="111.90" y1="289.10" x2="111.90" y2="292.10" stroke="#ff6a6a" stroke-width="0.9" />
<line x1="114.30" y1="288.50" x2="114.30" y2="291.50" stroke="#ff6a6a" stroke-width="0.9" />
<line x1="116.70" y1="287.70" x2="116.70" y2="290.70" stroke="#ff6a6a" stroke-width="0.9" />
<line x1="119.10" y1="287.90" x2="119.10" y2="290.90" stroke="#ff6a6a" stroke-width="0.9" />
<line x1="121.50" y1="268.40" x2="121.50" y2="283.60" stroke="#ff6a6a" stroke-width="0.9" />
<line x1="123.90" y1="282.50" x2="123.90" y2="290.00" stroke="#ff6a6a" stroke-width="0.9" />
<line x1="126.30" y1="265.50" x2="126.30" y2="280.10" stroke="#ff6a6a" stroke-width="0.9" />
<line x1="128.70" y1="276.50" x2="128.70" y2="286.00" stroke="#ff6a6a" stroke-width="0.9" />
<line x1="131.10" y1="280.00" x2="131.10" y2="289.00" stroke="#ff6a6a" stroke-width="0.9" />
<line x1="133.50" y1="262.00" x2="133.50" y2="279.50" stroke="#ff6a6a" stroke-width="0.9" />
<line x1="135.90" y1="276.00" x2="135.90" y2="286.00" stroke="#ff6a6a" stroke-width="0.9" />
<path d="M80.30,278.90 C80.75,279.50 82.13,281.45 83.00,282.50 C83.87,283.55 84.38,284.72 85.50,285.20 C86.62,285.68 88.37,285.93 89.70,285.40 C91.03,284.87 92.20,283.48 93.50,282.00 C94.80,280.52 96.18,277.98 97.50,276.50 C98.82,275.02 100.15,273.10 101.40,273.10 C102.65,273.10 103.73,274.77 105.00,276.50 C106.27,278.23 107.65,281.47 109.00,283.50 C110.35,285.53 111.90,287.72 113.10,288.70 C114.30,289.68 115.13,289.52 116.20,289.40 C117.27,289.28 118.37,288.98 119.50,288.00 C120.63,287.02 121.83,285.00 123.00,283.50 C124.17,282.00 125.30,280.12 126.50,279.00 C127.70,277.88 129.03,276.92 130.20,276.80 C131.37,276.68 132.42,277.47 133.50,278.30 C134.58,279.13 136.17,281.22 136.70,281.80" stroke="#ff0000" stroke-width="1.2" fill="none" stroke-linecap="round" stroke-linejoin="round"/>
<circle cx="80.70" cy="280.00" r="1.2" fill="#ff9a9a" stroke="#ff2a2a" stroke-width="0.65"/>
<circle cx="83.10" cy="280.00" r="1.2" fill="#ff9a9a" stroke="#ff2a2a" stroke-width="0.65"/>
<circle cx="85.50" cy="285.40" r="1.2" fill="#ff9a9a" stroke="#ff2a2a" stroke-width="0.65"/>
<circle cx="87.90" cy="279.50" r="1.2" fill="#ff9a9a" stroke="#ff2a2a" stroke-width="0.65"/>
<circle cx="90.30" cy="286.50" r="1.2" fill="#ff9a9a" stroke="#ff2a2a" stroke-width="0.65"/>
<circle cx="92.70" cy="277.20" r="1.2" fill="#ff9a9a" stroke="#ff2a2a" stroke-width="0.65"/>
<circle cx="95.10" cy="284.20" r="1.2" fill="#ff9a9a" stroke="#ff2a2a" stroke-width="0.65"/>
<circle cx="97.50" cy="282.20" r="1.2" fill="#ff9a9a" stroke="#ff2a2a" stroke-width="0.65"/>
<circle cx="99.90" cy="269.60" r="1.2" fill="#ff9a9a" stroke="#ff2a2a" stroke-width="0.65"/>
<circle cx="102.30" cy="263.10" r="1.2" fill="#ff9a9a" stroke="#ff2a2a" stroke-width="0.65"/>
<circle cx="104.70" cy="277.70" r="1.2" fill="#ff9a9a" stroke="#ff2a2a" stroke-width="0.65"/>
<circle cx="107.10" cy="287.10" r="1.2" fill="#ff9a9a" stroke="#ff2a2a" stroke-width="0.65"/>
<circle cx="109.50" cy="289.00" r="1.2" fill="#ff9a9a" stroke="#ff2a2a" stroke-width="0.65"/>
<circle cx="111.90" cy="290.60" r="1.2" fill="#ff9a9a" stroke="#ff2a2a" stroke-width="0.65"/>
<circle cx="114.30" cy="290.00" r="1.2" fill="#ff9a9a" stroke="#ff2a2a" stroke-width="0.65"/>
<circle cx="116.70" cy="289.20" r="1.2" fill="#ff9a9a" stroke="#ff2a2a" stroke-width="0.65"/>
<circle cx="119.10" cy="289.40" r="1.2" fill="#ff9a9a" stroke="#ff2a2a" stroke-width="0.65"/>
<circle cx="121.50" cy="278.90" r="1.2" fill="#ff9a9a" stroke="#ff2a2a" stroke-width="0.65"/>
<circle cx="123.90" cy="286.20" r="1.2" fill="#ff9a9a" stroke="#ff2a2a" stroke-width="0.65"/>
<circle cx="126.30" cy="271.90" r="1.2" fill="#ff9a9a" stroke="#ff2a2a" stroke-width="0.65"/>
<circle cx="128.70" cy="281.50" r="1.2" fill="#ff9a9a" stroke="#ff2a2a" stroke-width="0.65"/>
<circle cx="131.10" cy="284.80" r="1.2" fill="#ff9a9a" stroke="#ff2a2a" stroke-width="0.65"/>
<circle cx="133.50" cy="270.10" r="1.2" fill="#ff9a9a" stroke="#ff2a2a" stroke-width="0.65"/>
<circle cx="135.90" cy="281.00" r="1.2" fill="#ff9a9a" stroke="#ff2a2a" stroke-width="0.65"/>
<line x1="103.70" y1="240.40" x2="115.80" y2="240.40" stroke="#ff0000" stroke-width="1.0" />
<circle cx="109.50" cy="240.40" r="1.0" fill="#ff9a9a" stroke="#ff0000" stroke-width="0.65"/>
<text x="121.90" y="239.40" font-size="4.7" text-anchor="start" fill="#000" stroke="#000" stroke-width="0.06" textLength="10.50" lengthAdjust="spacingAndGlyphs" >1% O<tspan font-size="3.0" dy="0.9">2</tspan></text>
<text x="121.90" y="244.90" font-size="4.7" text-anchor="start" fill="#000" stroke="#000" stroke-width="0.06" textLength="20.90" lengthAdjust="spacingAndGlyphs" >p=0.0353</text>
<path d="M54.30,369.30 C54.70,369.38 55.90,369.93 56.70,369.80 C57.50,369.67 58.30,368.43 59.10,368.50 C59.90,368.57 60.70,370.37 61.50,370.20 C62.30,370.03 63.10,367.48 63.90,367.50 C64.70,367.52 65.50,369.72 66.30,370.30 C67.10,370.88 67.90,370.80 68.70,371.00 C69.50,371.20 70.30,371.58 71.10,371.50 C71.90,371.42 72.70,370.63 73.50,370.50 C74.30,370.37 75.10,370.63 75.90,370.70 C76.70,370.77 77.90,370.87 78.30,370.90" stroke="#0000ff" stroke-width="1.0" fill="none" stroke-linecap="round" stroke-linejoin="round"/>
<circle cx="54.30" cy="369.30" r="1.25" fill="#0000ff"/>
<circle cx="56.70" cy="369.80" r="1.25" fill="#0000ff"/>
<circle cx="59.10" cy="368.50" r="1.25" fill="#0000ff"/>
<circle cx="61.50" cy="370.20" r="1.25" fill="#0000ff"/>
<circle cx="63.90" cy="367.50" r="1.25" fill="#0000ff"/>
<circle cx="66.30" cy="370.30" r="1.25" fill="#0000ff"/>
<circle cx="68.70" cy="371.00" r="1.25" fill="#0000ff"/>
<circle cx="71.10" cy="371.50" r="1.25" fill="#0000ff"/>
<circle cx="73.50" cy="370.50" r="1.25" fill="#0000ff"/>
<circle cx="75.90" cy="370.70" r="1.25" fill="#0000ff"/>
<circle cx="78.30" cy="370.90" r="1.25" fill="#0000ff"/>
<line x1="83.10" y1="340.50" x2="83.10" y2="355.10" stroke="#9a9aff" stroke-width="1.0" />
<line x1="85.50" y1="326.40" x2="85.50" y2="352.20" stroke="#9a9aff" stroke-width="1.0" />
<line x1="87.90" y1="355.00" x2="87.90" y2="361.50" stroke="#9a9aff" stroke-width="1.0" />
<line x1="90.30" y1="351.00" x2="90.30" y2="360.40" stroke="#9a9aff" stroke-width="1.0" />
<line x1="92.70" y1="346.30" x2="92.70" y2="359.20" stroke="#9a9aff" stroke-width="1.0" />
<line x1="95.10" y1="335.80" x2="95.10" y2="355.10" stroke="#9a9aff" stroke-width="1.0" />
<line x1="97.50" y1="354.00" x2="97.50" y2="366.00" stroke="#9a9aff" stroke-width="1.0" />
<line x1="99.90" y1="352.00" x2="99.90" y2="364.00" stroke="#9a9aff" stroke-width="1.0" />
<line x1="102.30" y1="351.00" x2="102.30" y2="364.40" stroke="#9a9aff" stroke-width="1.0" />
<line x1="104.70" y1="341.60" x2="104.70" y2="356.30" stroke="#9a9aff" stroke-width="1.0" />
<line x1="107.10" y1="360.40" x2="107.10" y2="365.60" stroke="#9a9aff" stroke-width="1.0" />
<line x1="111.90" y1="346.90" x2="111.90" y2="366.80" stroke="#9a9aff" stroke-width="1.0" />
<line x1="114.30" y1="350.40" x2="114.30" y2="362.70" stroke="#9a9aff" stroke-width="1.0" />
<line x1="116.70" y1="358.60" x2="116.70" y2="366.80" stroke="#9a9aff" stroke-width="1.0" />
<line x1="119.10" y1="358.60" x2="119.10" y2="367.40" stroke="#9a9aff" stroke-width="1.0" />
<line x1="121.50" y1="359.80" x2="121.50" y2="368.50" stroke="#9a9aff" stroke-width="1.0" />
<line x1="123.90" y1="352.20" x2="123.90" y2="366.20" stroke="#9a9aff" stroke-width="1.0" />
<line x1="126.30" y1="348.70" x2="126.30" y2="362.70" stroke="#9a9aff" stroke-width="1.0" />
<line x1="128.70" y1="352.70" x2="128.70" y2="360.40" stroke="#9a9aff" stroke-width="1.0" />
<line x1="131.10" y1="346.30" x2="131.10" y2="357.40" stroke="#9a9aff" stroke-width="1.0" />
<line x1="133.50" y1="347.50" x2="133.50" y2="358.00" stroke="#9a9aff" stroke-width="1.0" />
<line x1="135.90" y1="355.00" x2="135.90" y2="364.40" stroke="#9a9aff" stroke-width="1.0" />
<circle cx="83.10" cy="347.70" r="1.3" fill="#0000ff"/>
<circle cx="85.50" cy="339.60" r="1.3" fill="#0000ff"/>
<circle cx="87.90" cy="358.40" r="1.3" fill="#0000ff"/>
<circle cx="90.30" cy="355.70" r="1.3" fill="#0000ff"/>
<circle cx="92.70" cy="352.70" r="1.3" fill="#0000ff"/>
<circle cx="95.10" cy="345.70" r="1.3" fill="#0000ff"/>
<circle cx="97.50" cy="359.80" r="1.3" fill="#0000ff"/>
<circle cx="99.90" cy="358.40" r="1.3" fill="#0000ff"/>
<circle cx="102.30" cy="357.40" r="1.3" fill="#0000ff"/>
<circle cx="104.70" cy="349.00" r="1.3" fill="#0000ff"/>
<circle cx="107.10" cy="363.00" r="1.3" fill="#0000ff"/>
<circle cx="111.90" cy="357.20" r="1.3" fill="#0000ff"/>
<circle cx="114.30" cy="356.30" r="1.3" fill="#0000ff"/>
<circle cx="116.70" cy="362.70" r="1.3" fill="#0000ff"/>
<circle cx="119.10" cy="363.00" r="1.3" fill="#0000ff"/>
<circle cx="121.50" cy="363.90" r="1.3" fill="#0000ff"/>
<circle cx="123.90" cy="358.60" r="1.3" fill="#0000ff"/>
<circle cx="126.30" cy="356.00" r="1.3" fill="#0000ff"/>
<circle cx="128.70" cy="356.00" r="1.3" fill="#0000ff"/>
<circle cx="131.10" cy="352.20" r="1.3" fill="#0000ff"/>
<circle cx="133.50" cy="353.30" r="1.3" fill="#0000ff"/>
<circle cx="135.90" cy="359.50" r="1.3" fill="#0000ff"/>
<circle cx="108.80" cy="318.50" r="1.2" fill="#0000ff"/>
<text x="121.20" y="317.30" font-size="4.7" text-anchor="start" fill="#000" stroke="#000" stroke-width="0.06" textLength="13.20" lengthAdjust="spacingAndGlyphs" >21%O<tspan font-size="3.0" dy="0.9">2</tspan></text>
<text x="121.20" y="323.50" font-size="4.7" text-anchor="start" fill="#000" stroke="#000" stroke-width="0.06" textLength="25.30" lengthAdjust="spacingAndGlyphs" >ns, p=0.592</text>
<line x1="263.50" y1="233.80" x2="263.50" y2="378.50" stroke="#bdbdbd" stroke-width="0.8" />
<line x1="234.60" y1="234.00" x2="234.60" y2="299.80" stroke="#000" stroke-width="0.9" />
<text x="230.40" y="236.09" font-size="5.8" text-anchor="end" fill="#000" stroke="#000" stroke-width="0.24" >5</text>
<line x1="232.10" y1="247.50" x2="234.60" y2="247.50" stroke="#000" stroke-width="0.9" />
<text x="230.40" y="249.39" font-size="5.8" text-anchor="end" fill="#000" stroke="#000" stroke-width="0.24" >4</text>
<line x1="232.10" y1="260.50" x2="234.60" y2="260.50" stroke="#000" stroke-width="0.9" />
<text x="230.40" y="262.59" font-size="5.8" text-anchor="end" fill="#000" stroke="#000" stroke-width="0.24" >3</text>
<line x1="232.10" y1="273.50" x2="234.60" y2="273.50" stroke="#000" stroke-width="0.9" />
<text x="230.40" y="275.49" font-size="5.8" text-anchor="end" fill="#000" stroke="#000" stroke-width="0.24" >2</text>
<line x1="232.10" y1="286.50" x2="234.60" y2="286.50" stroke="#000" stroke-width="0.9" />
<text x="230.40" y="288.69" font-size="5.8" text-anchor="end" fill="#000" stroke="#000" stroke-width="0.24" >1</text>
<line x1="232.10" y1="299.50" x2="237.20" y2="299.50" stroke="#000" stroke-width="0.9" />
<text x="230.40" y="301.89" font-size="5.8" text-anchor="end" fill="#000" stroke="#000" stroke-width="0.24" >0</text>
<line x1="234.60" y1="312.80" x2="234.60" y2="378.40" stroke="#000" stroke-width="0.9" />
<line x1="232.10" y1="312.50" x2="237.20" y2="312.50" stroke="#000" stroke-width="0.9" />
<text x="230.40" y="314.89" font-size="5.8" text-anchor="end" fill="#000" stroke="#000" stroke-width="0.24" >5</text>
<line x1="232.10" y1="326.50" x2="234.60" y2="326.50" stroke="#000" stroke-width="0.9" />
<text x="230.40" y="328.09" font-size="5.8" text-anchor="end" fill="#000" stroke="#000" stroke-width="0.24" >4</text>
<line x1="232.10" y1="338.50" x2="234.60" y2="338.50" stroke="#000" stroke-width="0.9" />
<text x="230.40" y="340.99" font-size="5.8" text-anchor="end" fill="#000" stroke="#000" stroke-width="0.24" >3</text>
<line x1="232.10" y1="352.50" x2="234.60" y2="352.50" stroke="#000" stroke-width="0.9" />
<text x="230.40" y="354.19" font-size="5.8" text-anchor="end" fill="#000" stroke="#000" stroke-width="0.24" >2</text>
<line x1="232.10" y1="365.50" x2="234.60" y2="365.50" stroke="#000" stroke-width="0.9" />
<text x="230.40" y="367.29" font-size="5.8" text-anchor="end" fill="#000" stroke="#000" stroke-width="0.24" >1</text>
<text x="230.40" y="380.49" font-size="5.8" text-anchor="end" fill="#000" stroke="#000" stroke-width="0.24" >0</text>
<line x1="231.60" y1="378.40" x2="330.90" y2="378.40" stroke="#000" stroke-width="1.0" />
<line x1="234.80" y1="378.40" x2="234.80" y2="381.40" stroke="#000" stroke-width="0.9" />
<text x="234.80" y="389.79" font-size="5.8" text-anchor="middle" fill="#000" stroke="#000" stroke-width="0.24" >0</text>
<line x1="263.60" y1="378.40" x2="263.60" y2="381.40" stroke="#000" stroke-width="0.9" />
<text x="263.60" y="389.79" font-size="5.8" text-anchor="middle" fill="#000" stroke="#000" stroke-width="0.24" >24</text>
<line x1="292.40" y1="378.40" x2="292.40" y2="381.40" stroke="#000" stroke-width="0.9" />
<text x="292.40" y="389.79" font-size="5.8" text-anchor="middle" fill="#000" stroke="#000" stroke-width="0.24" >48</text>
<line x1="321.20" y1="378.40" x2="321.20" y2="381.40" stroke="#000" stroke-width="0.9" />
<text x="321.20" y="389.79" font-size="5.8" text-anchor="middle" fill="#000" stroke="#000" stroke-width="0.24" >72</text>
<text x="283.40" y="397.58" font-size="6.6" text-anchor="middle" fill="#000" stroke="#000" stroke-width="0.24" textLength="24.60" lengthAdjust="spacingAndGlyphs" >Time (h)</text>
<text transform="translate(219.00 307.60) rotate(-90)" font-size="6.1" text-anchor="middle" stroke="#000" stroke-width="0.24">Prx oxidized rel. quant.</text>
<line x1="239.60" y1="258.70" x2="239.60" y2="279.50" stroke="#ff9a9a" stroke-width="1.0" />
<line x1="244.40" y1="268.30" x2="244.40" y2="277.50" stroke="#ff9a9a" stroke-width="1.0" />
<line x1="249.20" y1="271.20" x2="249.20" y2="279.00" stroke="#ff9a9a" stroke-width="1.0" />
<line x1="254.00" y1="258.00" x2="254.00" y2="268.70" stroke="#ff9a9a" stroke-width="1.0" />
<line x1="258.80" y1="239.70" x2="258.80" y2="264.90" stroke="#ff9a9a" stroke-width="1.0" />
<line x1="263.60" y1="261.70" x2="263.60" y2="276.30" stroke="#ff9a9a" stroke-width="1.0" />
<line x1="268.40" y1="278.50" x2="268.40" y2="282.90" stroke="#ff9a9a" stroke-width="1.0" />
<line x1="273.20" y1="276.30" x2="273.20" y2="282.20" stroke="#ff9a9a" stroke-width="1.0" />
<line x1="282.80" y1="268.30" x2="282.80" y2="277.50" stroke="#ff9a9a" stroke-width="1.0" />
<line x1="297.20" y1="264.30" x2="297.20" y2="273.70" stroke="#ff9a9a" stroke-width="1.0" />
<line x1="302.00" y1="266.80" x2="302.00" y2="277.80" stroke="#ff9a9a" stroke-width="1.0" />
<line x1="311.60" y1="268.30" x2="311.60" y2="280.70" stroke="#ff9a9a" stroke-width="1.0" />
<line x1="316.40" y1="268.70" x2="316.40" y2="279.30" stroke="#ff9a9a" stroke-width="1.0" />
<line x1="321.20" y1="279.50" x2="321.20" y2="286.30" stroke="#ff9a9a" stroke-width="1.0" />
<circle cx="239.60" cy="268.70" r="1.35" fill="#ff0000"/>
<circle cx="244.40" cy="272.70" r="1.35" fill="#ff0000"/>
<circle cx="249.20" cy="274.90" r="1.35" fill="#ff0000"/>
<circle cx="254.00" cy="263.40" r="1.35" fill="#ff0000"/>
<circle cx="258.80" cy="252.10" r="1.35" fill="#ff0000"/>
<circle cx="263.60" cy="269.00" r="1.35" fill="#ff0000"/>
<circle cx="268.40" cy="280.70" r="1.35" fill="#ff0000"/>
<circle cx="273.20" cy="279.30" r="1.35" fill="#ff0000"/>
<circle cx="278.00" cy="283.40" r="1.35" fill="#ff0000"/>
<circle cx="282.80" cy="273.00" r="1.35" fill="#ff0000"/>
<circle cx="287.60" cy="277.30" r="1.35" fill="#ff0000"/>
<circle cx="292.40" cy="283.60" r="1.35" fill="#ff0000"/>
<circle cx="297.20" cy="269.10" r="1.35" fill="#ff0000"/>
<circle cx="302.00" cy="272.20" r="1.35" fill="#ff0000"/>
<circle cx="306.80" cy="281.90" r="1.35" fill="#ff0000"/>
<circle cx="311.60" cy="274.60" r="1.35" fill="#ff0000"/>
<circle cx="316.40" cy="274.10" r="1.35" fill="#ff0000"/>
<circle cx="321.20" cy="282.90" r="1.35" fill="#ff0000"/>
<polygon points="258.40,233.90 258.99,235.29 260.49,235.42 259.35,236.41 259.69,237.88 258.40,237.10 257.11,237.88 257.45,236.41 256.31,235.42 257.81,235.29" fill="#000" stroke="#000" stroke-width="0.3" stroke-linejoin="round"/>
<circle cx="302.50" cy="239.40" r="1.35" fill="#ff0000"/>
<text x="315.50" y="238.50" font-size="4.7" text-anchor="start" fill="#000" stroke="#000" stroke-width="0.06" textLength="12.40" lengthAdjust="spacingAndGlyphs" >1% O<tspan font-size="3.0" dy="0.9">2</tspan></text>
<text x="315.50" y="244.60" font-size="4.7" text-anchor="start" fill="#000" stroke="#000" stroke-width="0.06" textLength="14.60" lengthAdjust="spacingAndGlyphs" >p=0.82</text>
<line x1="239.60" y1="339.30" x2="239.60" y2="360.40" stroke="#9a9aff" stroke-width="1.0" />
<line x1="244.40" y1="314.70" x2="244.40" y2="346.90" stroke="#9a9aff" stroke-width="1.0" />
<line x1="249.20" y1="323.50" x2="249.20" y2="340.80" stroke="#9a9aff" stroke-width="1.0" />
<line x1="254.00" y1="339.60" x2="254.00" y2="355.00" stroke="#9a9aff" stroke-width="1.0" />
<line x1="258.80" y1="353.50" x2="258.80" y2="373.30" stroke="#9a9aff" stroke-width="1.0" />
<line x1="263.60" y1="352.00" x2="263.60" y2="358.50" stroke="#9a9aff" stroke-width="1.0" />
<line x1="268.40" y1="358.00" x2="268.40" y2="363.00" stroke="#9a9aff" stroke-width="1.0" />
<line x1="273.20" y1="344.00" x2="273.20" y2="354.30" stroke="#9a9aff" stroke-width="1.0" />
<line x1="278.00" y1="341.80" x2="278.00" y2="354.30" stroke="#9a9aff" stroke-width="1.0" />
<line x1="297.20" y1="338.90" x2="297.20" y2="358.70" stroke="#9a9aff" stroke-width="1.0" />
<line x1="302.00" y1="346.90" x2="302.00" y2="356.50" stroke="#9a9aff" stroke-width="1.0" />
<line x1="306.80" y1="338.90" x2="306.80" y2="356.50" stroke="#9a9aff" stroke-width="1.0" />
<line x1="311.60" y1="358.70" x2="311.60" y2="364.50" stroke="#9a9aff" stroke-width="1.0" />
<path d="M266.40,356.50 C267.00,355.92 268.72,353.87 270.00,353.00 C271.28,352.13 272.77,351.38 274.10,351.30 C275.43,351.22 276.68,351.63 278.00,352.50 C279.32,353.37 280.45,355.03 282.00,356.50 C283.55,357.97 285.63,360.97 287.30,361.30 C288.97,361.63 290.55,359.97 292.00,358.50 C293.45,357.03 294.28,354.42 296.00,352.50 C297.72,350.58 300.63,347.58 302.30,347.00 C303.97,346.42 304.72,347.67 306.00,349.00 C307.28,350.33 308.30,352.78 310.00,355.00 C311.70,357.22 314.70,361.22 316.20,362.30 C317.70,363.38 318.10,361.98 319.00,361.50 C319.90,361.02 321.17,359.75 321.60,359.40" stroke="#0000ff" stroke-width="1.3" fill="none" stroke-linecap="round" stroke-linejoin="round"/>
<circle cx="239.60" cy="350.10" r="1.35" fill="#0000ff"/>
<circle cx="244.40" cy="331.10" r="1.35" fill="#0000ff"/>
<circle cx="249.20" cy="332.60" r="1.35" fill="#0000ff"/>
<circle cx="254.00" cy="347.40" r="1.35" fill="#0000ff"/>
<circle cx="258.80" cy="363.80" r="1.35" fill="#0000ff"/>
<circle cx="263.60" cy="355.40" r="1.35" fill="#0000ff"/>
<circle cx="268.40" cy="360.40" r="1.35" fill="#0000ff"/>
<circle cx="273.20" cy="349.10" r="1.35" fill="#0000ff"/>
<circle cx="278.00" cy="349.60" r="1.35" fill="#0000ff"/>
<circle cx="282.80" cy="363.00" r="1.35" fill="#0000ff"/>
<circle cx="287.60" cy="358.40" r="1.35" fill="#0000ff"/>
<circle cx="292.40" cy="358.70" r="1.35" fill="#0000ff"/>
<circle cx="297.20" cy="348.80" r="1.35" fill="#0000ff"/>
<circle cx="302.00" cy="351.30" r="1.35" fill="#0000ff"/>
<circle cx="306.80" cy="347.70" r="1.35" fill="#0000ff"/>
<circle cx="311.60" cy="360.90" r="1.35" fill="#0000ff"/>
<circle cx="316.40" cy="361.60" r="1.35" fill="#0000ff"/>
<circle cx="321.20" cy="359.40" r="1.35" fill="#0000ff"/>
<line x1="292.00" y1="316.10" x2="303.40" y2="316.10" stroke="#0000ff" stroke-width="1.1" />
<circle cx="297.60" cy="316.10" r="1.1" fill="#0000ff"/>
<text x="309.90" y="315.30" font-size="4.7" text-anchor="start" fill="#000" stroke="#000" stroke-width="0.06" textLength="16.10" lengthAdjust="spacingAndGlyphs" >21% O<tspan font-size="3.0" dy="0.9">2</tspan></text>
<text x="309.90" y="320.80" font-size="4.7" text-anchor="start" fill="#000" stroke="#000" stroke-width="0.06" textLength="14.70" lengthAdjust="spacingAndGlyphs" >p=0.05</text>
<text x="160.40" y="448.30" font-size="7.3" text-anchor="start" fill="#000" stroke="#000" stroke-width="0.24" textLength="34.40" lengthAdjust="spacingAndGlyphs" >Time (h)</text>
<text x="45.00" y="461.00" font-size="8.2" text-anchor="middle" fill="#000" stroke="#000" stroke-width="0.24" textLength="4.60" lengthAdjust="spacingAndGlyphs" >4</text>
<text x="45.00" y="507.70" font-size="8.2" text-anchor="middle" fill="#000" stroke="#000" stroke-width="0.24" textLength="4.60" lengthAdjust="spacingAndGlyphs" >4</text>
<text x="63.00" y="461.00" font-size="8.2" text-anchor="middle" fill="#000" stroke="#000" stroke-width="0.24" textLength="4.60" lengthAdjust="spacingAndGlyphs" >8</text>
<text x="63.00" y="507.70" font-size="8.2" text-anchor="middle" fill="#000" stroke="#000" stroke-width="0.24" textLength="4.60" lengthAdjust="spacingAndGlyphs" >8</text>
<text x="81.10" y="461.00" font-size="8.2" text-anchor="middle" fill="#000" stroke="#000" stroke-width="0.24" textLength="9.60" lengthAdjust="spacingAndGlyphs" >12</text>
<text x="81.10" y="507.70" font-size="8.2" text-anchor="middle" fill="#000" stroke="#000" stroke-width="0.24" textLength="9.60" lengthAdjust="spacingAndGlyphs" >12</text>
<text x="96.30" y="461.00" font-size="8.2" text-anchor="middle" fill="#000" stroke="#000" stroke-width="0.24" textLength="9.60" lengthAdjust="spacingAndGlyphs" >16</text>
<text x="96.30" y="507.70" font-size="8.2" text-anchor="middle" fill="#000" stroke="#000" stroke-width="0.24" textLength="9.60" lengthAdjust="spacingAndGlyphs" >16</text>
<text x="113.70" y="461.00" font-size="8.2" text-anchor="middle" fill="#000" stroke="#000" stroke-width="0.24" textLength="9.60" lengthAdjust="spacingAndGlyphs" >20</text>
<text x="113.70" y="507.70" font-size="8.2" text-anchor="middle" fill="#000" stroke="#000" stroke-width="0.24" textLength="9.60" lengthAdjust="spacingAndGlyphs" >20</text>
<text x="132.40" y="461.00" font-size="8.2" text-anchor="middle" fill="#000" stroke="#000" stroke-width="0.24" textLength="9.60" lengthAdjust="spacingAndGlyphs" >24</text>
<text x="132.40" y="507.70" font-size="8.2" text-anchor="middle" fill="#000" stroke="#000" stroke-width="0.24" textLength="9.60" lengthAdjust="spacingAndGlyphs" >24</text>
<text x="149.30" y="461.00" font-size="8.2" text-anchor="middle" fill="#000" stroke="#000" stroke-width="0.24" textLength="9.60" lengthAdjust="spacingAndGlyphs" >28</text>
<text x="149.30" y="507.70" font-size="8.2" text-anchor="middle" fill="#000" stroke="#000" stroke-width="0.24" textLength="9.60" lengthAdjust="spacingAndGlyphs" >28</text>
<text x="164.80" y="461.00" font-size="8.2" text-anchor="middle" fill="#000" stroke="#000" stroke-width="0.24" textLength="9.60" lengthAdjust="spacingAndGlyphs" >32</text>
<text x="164.80" y="507.70" font-size="8.2" text-anchor="middle" fill="#000" stroke="#000" stroke-width="0.24" textLength="9.60" lengthAdjust="spacingAndGlyphs" >32</text>
<text x="179.60" y="461.00" font-size="8.2" text-anchor="middle" fill="#000" stroke="#000" stroke-width="0.24" textLength="9.60" lengthAdjust="spacingAndGlyphs" >36</text>
<text x="179.60" y="507.70" font-size="8.2" text-anchor="middle" fill="#000" stroke="#000" stroke-width="0.24" textLength="9.60" lengthAdjust="spacingAndGlyphs" >36</text>
<text x="198.30" y="461.00" font-size="8.2" text-anchor="middle" fill="#000" stroke="#000" stroke-width="0.24" textLength="9.60" lengthAdjust="spacingAndGlyphs" >40</text>
<text x="198.30" y="507.70" font-size="8.2" text-anchor="middle" fill="#000" stroke="#000" stroke-width="0.24" textLength="9.60" lengthAdjust="spacingAndGlyphs" >40</text>
<text x="213.00" y="461.00" font-size="8.2" text-anchor="middle" fill="#000" stroke="#000" stroke-width="0.24" textLength="9.60" lengthAdjust="spacingAndGlyphs" >44</text>
<text x="213.00" y="507.70" font-size="8.2" text-anchor="middle" fill="#000" stroke="#000" stroke-width="0.24" textLength="9.60" lengthAdjust="spacingAndGlyphs" >44</text>
<text x="230.70" y="461.00" font-size="8.2" text-anchor="middle" fill="#000" stroke="#000" stroke-width="0.24" textLength="9.60" lengthAdjust="spacingAndGlyphs" >48</text>
<text x="230.70" y="507.70" font-size="8.2" text-anchor="middle" fill="#000" stroke="#000" stroke-width="0.24" textLength="9.60" lengthAdjust="spacingAndGlyphs" >48</text>
<text x="250.60" y="461.00" font-size="8.2" text-anchor="middle" fill="#000" stroke="#000" stroke-width="0.24" textLength="9.60" lengthAdjust="spacingAndGlyphs" >52</text>
<text x="250.60" y="507.70" font-size="8.2" text-anchor="middle" fill="#000" stroke="#000" stroke-width="0.24" textLength="9.60" lengthAdjust="spacingAndGlyphs" >52</text>
<text x="268.40" y="461.00" font-size="8.2" text-anchor="middle" fill="#000" stroke="#000" stroke-width="0.24" textLength="9.60" lengthAdjust="spacingAndGlyphs" >56</text>
<text x="268.40" y="507.70" font-size="8.2" text-anchor="middle" fill="#000" stroke="#000" stroke-width="0.24" textLength="9.60" lengthAdjust="spacingAndGlyphs" >56</text>
<text x="286.00" y="461.00" font-size="8.2" text-anchor="middle" fill="#000" stroke="#000" stroke-width="0.24" textLength="9.60" lengthAdjust="spacingAndGlyphs" >60</text>
<text x="286.00" y="507.70" font-size="8.2" text-anchor="middle" fill="#000" stroke="#000" stroke-width="0.24" textLength="9.60" lengthAdjust="spacingAndGlyphs" >60</text>
<text x="301.80" y="461.00" font-size="8.2" text-anchor="middle" fill="#000" stroke="#000" stroke-width="0.24" textLength="9.60" lengthAdjust="spacingAndGlyphs" >64</text>
<text x="301.80" y="507.70" font-size="8.2" text-anchor="middle" fill="#000" stroke="#000" stroke-width="0.24" textLength="9.60" lengthAdjust="spacingAndGlyphs" >64</text>
<text x="319.30" y="461.00" font-size="8.2" text-anchor="middle" fill="#000" stroke="#000" stroke-width="0.24" textLength="9.60" lengthAdjust="spacingAndGlyphs" >68</text>
<text x="319.30" y="507.70" font-size="8.2" text-anchor="middle" fill="#000" stroke="#000" stroke-width="0.24" textLength="9.60" lengthAdjust="spacingAndGlyphs" >68</text>
<text x="334.50" y="461.00" font-size="8.2" text-anchor="middle" fill="#000" stroke="#000" stroke-width="0.24" textLength="9.60" lengthAdjust="spacingAndGlyphs" >72</text>
<text x="334.50" y="507.70" font-size="8.2" text-anchor="middle" fill="#000" stroke="#000" stroke-width="0.24" textLength="9.60" lengthAdjust="spacingAndGlyphs" >72</text>
<text x="7.00" y="460.90" font-size="7.6" text-anchor="start" fill="#000" stroke="#000" stroke-width="0.24" textLength="13.60" lengthAdjust="spacingAndGlyphs" >Prx</text>
<text x="21.00" y="463.30" font-size="4.0" text-anchor="start" fill="#000" stroke="#000" stroke-width="0.24" textLength="6.60" lengthAdjust="spacingAndGlyphs" >ox</text>
<text x="8.00" y="472.40" font-size="7.6" text-anchor="start" fill="#000" stroke="#000" stroke-width="0.24" textLength="24.20" lengthAdjust="spacingAndGlyphs" >1% O</text>
<text x="32.60" y="474.00" font-size="5.0" text-anchor="start" fill="#000" stroke="#000" stroke-width="0.24" textLength="3.00" lengthAdjust="spacingAndGlyphs" >2</text>
<text x="2.10" y="485.70" font-size="7.6" text-anchor="start" fill="#000" stroke="#000" stroke-width="0.24" textLength="30.10" lengthAdjust="spacingAndGlyphs" >21% O</text>
<text x="32.60" y="487.30" font-size="5.0" text-anchor="start" fill="#000" stroke="#000" stroke-width="0.24" textLength="3.00" lengthAdjust="spacingAndGlyphs" >2</text>
<text x="7.00" y="519.50" font-size="7.6" text-anchor="start" fill="#000" stroke="#000" stroke-width="0.24" textLength="25.20" lengthAdjust="spacingAndGlyphs" >1% O</text>
<text x="32.60" y="521.10" font-size="5.0" text-anchor="start" fill="#000" stroke="#000" stroke-width="0.24" textLength="3.00" lengthAdjust="spacingAndGlyphs" >2</text>
<text x="1.90" y="533.50" font-size="7.6" text-anchor="start" fill="#000" stroke="#000" stroke-width="0.24" textLength="30.40" lengthAdjust="spacingAndGlyphs" >21% O</text>
<text x="32.70" y="535.10" font-size="5.0" text-anchor="start" fill="#000" stroke="#000" stroke-width="0.24" textLength="3.00" lengthAdjust="spacingAndGlyphs" >2</text>
<text x="1.20" y="507.80" font-size="7.6" text-anchor="start" fill="#000" stroke="#000" stroke-width="0.24" textLength="29.70" lengthAdjust="spacingAndGlyphs" >β Actin</text>
<text x="86.00" y="543.50" font-size="7.6" text-anchor="start" fill="#000" stroke="#000" stroke-width="0.24" textLength="11.90" lengthAdjust="spacingAndGlyphs" >LD</text>
<text x="184.20" y="543.40" font-size="7.6" text-anchor="start" fill="#000" stroke="#000" stroke-width="0.24" textLength="18.80" lengthAdjust="spacingAndGlyphs" >DD1</text>
<text x="286.60" y="544.60" font-size="7.6" text-anchor="start" fill="#000" stroke="#000" stroke-width="0.24" textLength="18.80" lengthAdjust="spacingAndGlyphs" >DD2</text>
<defs><filter id="bl" x="-20%" y="-50%" width="140%" height="200%"><feGaussianBlur stdDeviation="0.8"/></filter><filter id="bl2" x="-20%" y="-50%" width="140%" height="200%"><feGaussianBlur stdDeviation="0.55"/></filter><filter id="bl3" x="-20%" y="-50%" width="140%" height="200%"><feGaussianBlur stdDeviation="0.4"/></filter><linearGradient id="ga" x1="0" y1="0" x2="0" y2="1"><stop offset="0" stop-color="#e8e8e8"/><stop offset="0.5" stop-color="#dedede"/><stop offset="1" stop-color="#e8e8e8"/></linearGradient><linearGradient id="ga3" x1="0" y1="0" x2="0" y2="1"><stop offset="0" stop-color="#cfcfcf"/><stop offset="0.5" stop-color="#d4d4d4"/><stop offset="1" stop-color="#e2e2e2"/></linearGradient></defs>
<rect x="40.8" y="464.9" width="99.10" height="9.50" fill="#a2a2a2"/>
<rect x="40.8" y="477.2" width="99.10" height="9.70" fill="#828282"/>
<rect x="146" y="464.9" width="94.30" height="9.50" fill="#a6a6a6"/>
<rect x="146" y="477.2" width="94.30" height="9.70" fill="#b2b2b2"/>
<rect x="245.2" y="464.9" width="96.80" height="9.50" fill="#b0b0b0"/>
<rect x="245.2" y="477.2" width="96.80" height="9.70" fill="#a8a8a8"/>
<g filter="url(#bl)">
<rect x="41.6" y="465.7" width="14.7" height="7.9" fill="#9c9c9c"/>
<rect x="41.6" y="478.0" width="14.7" height="8.1" fill="#808080"/>
<rect x="59.4" y="465.7" width="14.2" height="7.9" fill="#9c9c9c"/>
<rect x="59.4" y="478.0" width="14.2" height="8.1" fill="#7e7e7e"/>
<rect x="76.2" y="465.7" width="14.6" height="7.9" fill="#989898"/>
<rect x="76.2" y="478.0" width="14.6" height="8.1" fill="#7e7e7e"/>
<rect x="94.1" y="465.7" width="14.2" height="7.9" fill="#808080"/>
<rect x="94.1" y="478.0" width="14.2" height="8.1" fill="#828282"/>
<rect x="111.2" y="465.7" width="13.3" height="7.9" fill="#9e9e9e"/>
<rect x="111.2" y="478.0" width="13.3" height="8.1" fill="#828282"/>
<rect x="127.5" y="465.7" width="12.4" height="7.9" fill="#949494"/>
<rect x="127.5" y="478.0" width="12.4" height="8.1" fill="#848484"/>
<rect x="146.0" y="465.7" width="13.8" height="7.9" fill="#666666"/>
<rect x="146.0" y="478.0" width="13.8" height="8.1" fill="#a6a6a6"/>
<rect x="162.3" y="465.7" width="13.3" height="7.9" fill="#6c6c6c"/>
<rect x="162.3" y="478.0" width="13.3" height="8.1" fill="#a8a8a8"/>
<rect x="178.1" y="465.7" width="14.2" height="7.9" fill="#6c6c6c"/>
<rect x="178.1" y="478.0" width="14.2" height="8.1" fill="#acacac"/>
<rect x="193.9" y="465.7" width="14.1" height="7.9" fill="#707070"/>
<rect x="193.9" y="478.0" width="14.1" height="8.1" fill="#a6a6a6"/>
<rect x="209.7" y="465.7" width="14.1" height="7.9" fill="#686868"/>
<rect x="209.7" y="478.0" width="14.1" height="8.1" fill="#a6a6a6"/>
<rect x="225.5" y="465.7" width="14.1" height="7.9" fill="#767676"/>
<rect x="225.5" y="478.0" width="14.1" height="8.1" fill="#a0a0a0"/>
<rect x="244.8" y="465.7" width="13.2" height="7.9" fill="#585858"/>
<rect x="244.8" y="478.0" width="13.2" height="8.1" fill="#7a7a7a"/>
<rect x="260.5" y="465.7" width="13.3" height="7.9" fill="#5a5a5a"/>
<rect x="260.5" y="478.0" width="13.3" height="8.1" fill="#b4b4b4"/>
<rect x="277.2" y="465.7" width="13.3" height="7.9" fill="#5c5c5c"/>
<rect x="277.2" y="478.0" width="13.3" height="8.1" fill="#7a7a7a"/>
<rect x="292.9" y="465.7" width="13.3" height="7.9" fill="#585858"/>
<rect x="292.9" y="478.0" width="13.3" height="8.1" fill="#787878"/>
<rect x="309.5" y="465.7" width="13.4" height="7.9" fill="#606060"/>
<rect x="309.5" y="478.0" width="13.4" height="8.1" fill="#787878"/>
<rect x="325.0" y="465.7" width="15.4" height="7.9" fill="#5e5e5e"/>
<rect x="325.0" y="478.0" width="15.4" height="8.1" fill="#848484"/>
<rect x="42.6" y="481.0" width="12.7" height="3.0" rx="1.2" fill="#303030"/>
<rect x="60.4" y="481.0" width="12.2" height="3.0" rx="1.2" fill="#505050"/>
<rect x="77.2" y="481.0" width="12.6" height="3.0" rx="1.2" fill="#4a4a4a"/>
<rect x="95.1" y="481.0" width="12.2" height="3.0" rx="1.2" fill="#606060"/>
<rect x="112.2" y="481.0" width="11.3" height="3.0" rx="1.2" fill="#5c5c5c"/>
<rect x="128.5" y="481.0" width="10.4" height="3.0" rx="1.2" fill="#666666"/>
<rect x="129.0" y="471.0" width="9.4" height="2.4" rx="1.2" fill="#505050"/>
<rect x="147.0" y="481.0" width="11.8" height="3.0" rx="1.2" fill="#6a6a6a"/>
<rect x="147.5" y="468.5" width="10.8" height="2.4" rx="1.2" fill="#404040"/>
<rect x="163.3" y="481.0" width="11.3" height="3.0" rx="1.2" fill="#787878"/>
<rect x="179.1" y="481.0" width="12.2" height="3.0" rx="1.2" fill="#888888"/>
<rect x="194.9" y="481.0" width="12.1" height="3.0" rx="1.2" fill="#707070"/>
<rect x="210.7" y="481.0" width="12.1" height="3.0" rx="1.2" fill="#707070"/>
<rect x="211.2" y="468.5" width="11.1" height="2.4" rx="1.2" fill="#505050"/>
<rect x="226.5" y="481.0" width="12.1" height="3.0" rx="1.2" fill="#646464"/>
<rect x="245.8" y="481.0" width="11.2" height="3.0" rx="1.2" fill="#303030"/>
<rect x="261.5" y="481.0" width="11.3" height="3.0" rx="1.2" fill="#a8a8a8"/>
<rect x="278.2" y="481.0" width="11.3" height="3.0" rx="1.2" fill="#303030"/>
<rect x="293.9" y="481.0" width="11.3" height="3.0" rx="1.2" fill="#303030"/>
<rect x="310.5" y="481.0" width="11.4" height="3.0" rx="1.2" fill="#343434"/>
<rect x="326.0" y="481.0" width="13.4" height="3.0" rx="1.2" fill="#505050"/>
<rect x="246.3" y="469.4" width="10.2" height="1.6" fill="#9a9a9a" opacity="0.55"/>
<rect x="262.0" y="469.4" width="10.3" height="1.6" fill="#9a9a9a" opacity="0.55"/>
<rect x="278.7" y="469.4" width="10.3" height="1.6" fill="#9a9a9a" opacity="0.55"/>
<rect x="294.4" y="469.4" width="10.3" height="1.6" fill="#9a9a9a" opacity="0.55"/>
<rect x="311.0" y="469.4" width="10.4" height="1.6" fill="#9a9a9a" opacity="0.55"/>
<rect x="326.5" y="469.4" width="12.4" height="1.6" fill="#9a9a9a" opacity="0.55"/>
<rect x="40.8" y="464.9" width="99.10" height="1.2" fill="#c8c8c8" opacity="0.7"/>
<rect x="40.8" y="485.7" width="99.10" height="1.2" fill="#b8b8b8" opacity="0.6"/>
<rect x="146" y="464.9" width="94.30" height="1.2" fill="#c8c8c8" opacity="0.7"/>
<rect x="146" y="485.7" width="94.30" height="1.2" fill="#b8b8b8" opacity="0.6"/>
<rect x="245.2" y="464.9" width="96.80" height="1.2" fill="#c8c8c8" opacity="0.7"/>
<rect x="245.2" y="485.7" width="96.80" height="1.2" fill="#b8b8b8" opacity="0.6"/>
</g>
<g filter="url(#bl2)">
<ellipse cx="73.1" cy="467.4" rx="0.7" ry="0.7" fill="#222" opacity="0.10"/>
<ellipse cx="47.4" cy="469.7" rx="0.7" ry="0.6" fill="#222" opacity="0.08"/>
<ellipse cx="95.0" cy="466.8" rx="1.5" ry="0.7" fill="#222" opacity="0.13"/>
<ellipse cx="47.8" cy="470.2" rx="1.6" ry="0.4" fill="#222" opacity="0.16"/>
<ellipse cx="69.8" cy="467.3" rx="1.2" ry="0.7" fill="#222" opacity="0.14"/>
<ellipse cx="51.8" cy="470.1" rx="1.0" ry="0.7" fill="#222" opacity="0.06"/>
<ellipse cx="47.6" cy="467.7" rx="1.4" ry="0.6" fill="#ddd" opacity="0.17"/>
<ellipse cx="76.7" cy="468.0" rx="1.3" ry="0.5" fill="#222" opacity="0.12"/>
<ellipse cx="92.5" cy="472.1" rx="0.9" ry="0.9" fill="#ddd" opacity="0.07"/>
<ellipse cx="82.2" cy="471.3" rx="1.5" ry="0.6" fill="#222" opacity="0.18"/>
<ellipse cx="49.3" cy="470.0" rx="0.9" ry="0.6" fill="#222" opacity="0.11"/>
<ellipse cx="118.8" cy="466.8" rx="1.5" ry="0.6" fill="#222" opacity="0.14"/>
<ellipse cx="47.7" cy="471.0" rx="0.9" ry="0.6" fill="#ddd" opacity="0.14"/>
<ellipse cx="44.0" cy="469.4" rx="1.2" ry="0.6" fill="#222" opacity="0.08"/>
<ellipse cx="69.6" cy="471.2" rx="1.0" ry="0.8" fill="#ddd" opacity="0.06"/>
<ellipse cx="85.2" cy="470.0" rx="1.4" ry="0.8" fill="#222" opacity="0.09"/>
<ellipse cx="81.9" cy="468.7" rx="1.6" ry="0.5" fill="#ddd" opacity="0.07"/>
<ellipse cx="64.2" cy="467.9" rx="1.4" ry="0.5" fill="#ddd" opacity="0.09"/>
<ellipse cx="55.9" cy="469.9" rx="1.6" ry="0.7" fill="#222" opacity="0.12"/>
<ellipse cx="101.5" cy="470.8" rx="1.1" ry="0.8" fill="#222" opacity="0.17"/>
<ellipse cx="107.5" cy="470.0" rx="1.0" ry="0.5" fill="#ddd" opacity="0.13"/>
<ellipse cx="47.8" cy="466.8" rx="1.0" ry="0.5" fill="#222" opacity="0.13"/>
<ellipse cx="51.7" cy="470.1" rx="1.5" ry="0.7" fill="#222" opacity="0.06"/>
<ellipse cx="61.9" cy="468.8" rx="1.6" ry="0.7" fill="#222" opacity="0.11"/>
<ellipse cx="52.9" cy="469.6" rx="1.1" ry="0.6" fill="#ddd" opacity="0.07"/>
<ellipse cx="114.2" cy="471.2" rx="1.4" ry="0.5" fill="#ddd" opacity="0.05"/>
<ellipse cx="133.7" cy="469.8" rx="1.3" ry="0.9" fill="#222" opacity="0.15"/>
<ellipse cx="70.6" cy="470.6" rx="1.3" ry="0.5" fill="#222" opacity="0.10"/>
<ellipse cx="57.9" cy="471.4" rx="1.2" ry="0.7" fill="#222" opacity="0.15"/>
<ellipse cx="115.1" cy="467.7" rx="1.4" ry="0.8" fill="#222" opacity="0.08"/>
<ellipse cx="91.8" cy="468.7" rx="1.6" ry="0.8" fill="#222" opacity="0.11"/>
<ellipse cx="60.5" cy="470.3" rx="1.0" ry="0.9" fill="#222" opacity="0.18"/>
<ellipse cx="134.1" cy="468.8" rx="0.7" ry="0.6" fill="#222" opacity="0.09"/>
<ellipse cx="88.4" cy="472.8" rx="1.1" ry="0.7" fill="#222" opacity="0.15"/>
<ellipse cx="50.0" cy="470.7" rx="1.4" ry="0.8" fill="#ddd" opacity="0.11"/>
<ellipse cx="59.0" cy="471.5" rx="0.7" ry="0.9" fill="#222" opacity="0.14"/>
<ellipse cx="86.5" cy="471.2" rx="1.3" ry="0.5" fill="#222" opacity="0.07"/>
<ellipse cx="56.4" cy="472.3" rx="1.2" ry="0.7" fill="#222" opacity="0.11"/>
<ellipse cx="132.4" cy="467.4" rx="0.6" ry="0.8" fill="#222" opacity="0.14"/>
<ellipse cx="51.7" cy="471.3" rx="1.0" ry="0.8" fill="#222" opacity="0.16"/>
<ellipse cx="62.2" cy="468.0" rx="1.1" ry="0.8" fill="#222" opacity="0.09"/>
<ellipse cx="94.4" cy="471.8" rx="1.5" ry="0.6" fill="#222" opacity="0.11"/>
<ellipse cx="98.2" cy="472.3" rx="1.4" ry="0.8" fill="#ddd" opacity="0.07"/>
<ellipse cx="56.5" cy="469.7" rx="1.4" ry="0.7" fill="#ddd" opacity="0.15"/>
<ellipse cx="56.3" cy="467.3" rx="1.2" ry="0.6" fill="#222" opacity="0.12"/>
<ellipse cx="95.5" cy="471.5" rx="1.5" ry="0.4" fill="#222" opacity="0.07"/>
<ellipse cx="45.9" cy="467.0" rx="1.2" ry="0.8" fill="#ddd" opacity="0.17"/>
<ellipse cx="84.6" cy="470.4" rx="1.3" ry="0.6" fill="#222" opacity="0.12"/>
<ellipse cx="88.0" cy="472.5" rx="1.5" ry="0.8" fill="#222" opacity="0.08"/>
<ellipse cx="85.0" cy="469.1" rx="1.0" ry="0.4" fill="#ddd" opacity="0.08"/>
<ellipse cx="48.9" cy="470.8" rx="1.5" ry="0.5" fill="#222" opacity="0.14"/>
<ellipse cx="105.6" cy="467.3" rx="1.6" ry="0.5" fill="#222" opacity="0.17"/>
<ellipse cx="80.3" cy="469.6" rx="0.8" ry="0.6" fill="#222" opacity="0.12"/>
<ellipse cx="74.6" cy="467.7" rx="0.7" ry="0.6" fill="#222" opacity="0.09"/>
<ellipse cx="86.1" cy="471.0" rx="0.9" ry="0.7" fill="#ddd" opacity="0.12"/>
<ellipse cx="48.0" cy="472.8" rx="1.6" ry="0.5" fill="#222" opacity="0.08"/>
<ellipse cx="45.6" cy="471.5" rx="1.4" ry="0.8" fill="#222" opacity="0.16"/>
<ellipse cx="107.1" cy="472.5" rx="0.7" ry="0.9" fill="#ddd" opacity="0.12"/>
<ellipse cx="109.5" cy="467.0" rx="1.4" ry="0.5" fill="#222" opacity="0.17"/>
<ellipse cx="67.8" cy="466.5" rx="1.4" ry="0.4" fill="#222" opacity="0.16"/>
<ellipse cx="48.2" cy="472.0" rx="0.6" ry="0.9" fill="#ddd" opacity="0.10"/>
<ellipse cx="130.2" cy="470.4" rx="1.1" ry="0.5" fill="#222" opacity="0.06"/>
<ellipse cx="57.4" cy="466.7" rx="1.5" ry="0.7" fill="#222" opacity="0.12"/>
<ellipse cx="61.7" cy="469.3" rx="0.9" ry="0.8" fill="#222" opacity="0.18"/>
<ellipse cx="45.4" cy="466.5" rx="1.1" ry="0.5" fill="#222" opacity="0.11"/>
<ellipse cx="105.4" cy="470.6" rx="1.1" ry="0.8" fill="#ddd" opacity="0.18"/>
<ellipse cx="71.5" cy="467.8" rx="0.9" ry="0.8" fill="#222" opacity="0.14"/>
<ellipse cx="103.2" cy="469.0" rx="1.6" ry="0.8" fill="#222" opacity="0.05"/>
<ellipse cx="102.2" cy="472.1" rx="0.8" ry="0.4" fill="#ddd" opacity="0.16"/>
<ellipse cx="125.9" cy="470.8" rx="1.2" ry="0.7" fill="#222" opacity="0.06"/>
<ellipse cx="59.7" cy="468.1" rx="0.9" ry="0.9" fill="#222" opacity="0.18"/>
<ellipse cx="94.6" cy="468.0" rx="0.8" ry="0.5" fill="#222" opacity="0.09"/>
<ellipse cx="49.9" cy="468.2" rx="0.8" ry="0.8" fill="#222" opacity="0.06"/>
<ellipse cx="120.7" cy="467.3" rx="1.0" ry="0.5" fill="#222" opacity="0.13"/>
<ellipse cx="50.0" cy="472.6" rx="1.3" ry="0.8" fill="#222" opacity="0.16"/>
<ellipse cx="79.4" cy="468.5" rx="0.7" ry="0.8" fill="#ddd" opacity="0.13"/>
<ellipse cx="46.0" cy="471.8" rx="1.3" ry="0.8" fill="#ddd" opacity="0.07"/>
<ellipse cx="92.4" cy="469.7" rx="1.4" ry="0.7" fill="#222" opacity="0.17"/>
<ellipse cx="107.8" cy="470.9" rx="0.7" ry="0.4" fill="#222" opacity="0.13"/>
<ellipse cx="235.1" cy="468.8" rx="1.2" ry="0.7" fill="#ddd" opacity="0.13"/>
<ellipse cx="209.5" cy="469.6" rx="1.1" ry="0.4" fill="#222" opacity="0.17"/>
<ellipse cx="229.4" cy="467.0" rx="1.3" ry="0.6" fill="#222" opacity="0.16"/>
<ellipse cx="224.7" cy="467.9" rx="0.8" ry="0.7" fill="#222" opacity="0.11"/>
<ellipse cx="224.6" cy="466.9" rx="1.4" ry="0.7" fill="#222" opacity="0.13"/>
<ellipse cx="154.1" cy="467.4" rx="1.3" ry="0.7" fill="#222" opacity="0.13"/>
<ellipse cx="159.2" cy="469.5" rx="0.9" ry="0.7" fill="#ddd" opacity="0.14"/>
<ellipse cx="209.0" cy="468.3" rx="1.1" ry="0.6" fill="#222" opacity="0.07"/>
<ellipse cx="229.0" cy="467.7" rx="1.5" ry="0.4" fill="#222" opacity="0.11"/>
<ellipse cx="222.3" cy="472.7" rx="1.6" ry="0.6" fill="#ddd" opacity="0.17"/>
<ellipse cx="232.4" cy="466.9" rx="0.7" ry="0.7" fill="#222" opacity="0.17"/>
<ellipse cx="159.2" cy="471.7" rx="1.5" ry="0.8" fill="#222" opacity="0.08"/>
<ellipse cx="229.4" cy="469.6" rx="0.8" ry="0.9" fill="#222" opacity="0.14"/>
<ellipse cx="184.2" cy="471.1" rx="0.9" ry="0.6" fill="#ddd" opacity="0.16"/>
<ellipse cx="147.2" cy="471.3" rx="0.7" ry="0.9" fill="#ddd" opacity="0.14"/>
<ellipse cx="229.8" cy="468.3" rx="0.7" ry="0.6" fill="#222" opacity="0.16"/>
<ellipse cx="154.0" cy="472.4" rx="1.5" ry="0.5" fill="#222" opacity="0.06"/>
<ellipse cx="207.8" cy="470.5" rx="0.8" ry="0.5" fill="#222" opacity="0.12"/>
<ellipse cx="164.4" cy="468.8" rx="1.5" ry="0.8" fill="#ddd" opacity="0.13"/>
<ellipse cx="230.9" cy="472.5" rx="1.3" ry="0.4" fill="#222" opacity="0.15"/>
<ellipse cx="188.4" cy="471.3" rx="1.1" ry="0.9" fill="#222" opacity="0.12"/>
<ellipse cx="162.7" cy="469.1" rx="0.9" ry="0.8" fill="#222" opacity="0.18"/>
<ellipse cx="170.9" cy="470.7" rx="1.1" ry="0.7" fill="#222" opacity="0.07"/>
<ellipse cx="206.0" cy="466.9" rx="1.2" ry="0.6" fill="#ddd" opacity="0.09"/>
<ellipse cx="216.7" cy="469.2" rx="0.8" ry="0.5" fill="#222" opacity="0.12"/>
<ellipse cx="176.3" cy="468.8" rx="1.5" ry="0.8" fill="#222" opacity="0.10"/>
<ellipse cx="185.0" cy="469.8" rx="0.9" ry="0.8" fill="#ddd" opacity="0.11"/>
<ellipse cx="199.7" cy="468.7" rx="0.7" ry="0.8" fill="#222" opacity="0.10"/>
<ellipse cx="206.3" cy="469.2" rx="1.4" ry="0.8" fill="#222" opacity="0.05"/>
<ellipse cx="150.0" cy="471.0" rx="1.6" ry="0.6" fill="#ddd" opacity="0.06"/>
<ellipse cx="232.4" cy="472.4" rx="1.6" ry="0.5" fill="#ddd" opacity="0.06"/>
<ellipse cx="161.2" cy="469.8" rx="1.5" ry="0.8" fill="#222" opacity="0.13"/>
<ellipse cx="217.2" cy="469.4" rx="0.6" ry="0.5" fill="#222" opacity="0.12"/>
<ellipse cx="150.5" cy="471.0" rx="1.2" ry="0.7" fill="#222" opacity="0.11"/>
<ellipse cx="217.1" cy="467.0" rx="1.1" ry="0.7" fill="#222" opacity="0.10"/>
<ellipse cx="167.5" cy="470.3" rx="1.1" ry="0.9" fill="#222" opacity="0.09"/>
<ellipse cx="176.0" cy="471.9" rx="1.1" ry="0.5" fill="#222" opacity="0.08"/>
<ellipse cx="235.2" cy="471.0" rx="0.7" ry="0.5" fill="#222" opacity="0.17"/>
<ellipse cx="206.4" cy="466.9" rx="1.3" ry="0.9" fill="#222" opacity="0.08"/>
<ellipse cx="150.1" cy="468.6" rx="1.0" ry="0.6" fill="#ddd" opacity="0.05"/>
<ellipse cx="173.8" cy="471.9" rx="0.8" ry="0.9" fill="#222" opacity="0.09"/>
<ellipse cx="222.3" cy="467.9" rx="0.9" ry="0.8" fill="#222" opacity="0.06"/>
<ellipse cx="204.2" cy="470.4" rx="1.1" ry="0.9" fill="#222" opacity="0.06"/>
<ellipse cx="201.6" cy="472.4" rx="0.8" ry="0.9" fill="#222" opacity="0.07"/>
<ellipse cx="151.8" cy="466.8" rx="1.0" ry="0.8" fill="#ddd" opacity="0.09"/>
<ellipse cx="157.4" cy="466.9" rx="0.9" ry="0.5" fill="#222" opacity="0.17"/>
<ellipse cx="215.5" cy="466.6" rx="1.4" ry="0.9" fill="#ddd" opacity="0.11"/>
<ellipse cx="157.0" cy="466.9" rx="1.0" ry="0.9" fill="#222" opacity="0.07"/>
<ellipse cx="235.5" cy="467.7" rx="1.4" ry="0.6" fill="#222" opacity="0.15"/>
<ellipse cx="155.1" cy="471.0" rx="1.0" ry="0.9" fill="#222" opacity="0.08"/>
<ellipse cx="180.4" cy="472.2" rx="1.2" ry="0.5" fill="#222" opacity="0.13"/>
<ellipse cx="184.2" cy="468.8" rx="0.7" ry="0.9" fill="#ddd" opacity="0.08"/>
<ellipse cx="215.6" cy="472.2" rx="1.0" ry="0.6" fill="#222" opacity="0.17"/>
<ellipse cx="151.0" cy="471.3" rx="1.5" ry="0.5" fill="#222" opacity="0.14"/>
<ellipse cx="201.7" cy="471.6" rx="0.6" ry="0.5" fill="#222" opacity="0.11"/>
<ellipse cx="234.8" cy="472.6" rx="1.4" ry="0.9" fill="#ddd" opacity="0.16"/>
<ellipse cx="159.2" cy="469.6" rx="1.4" ry="0.8" fill="#222" opacity="0.16"/>
<ellipse cx="217.9" cy="470.3" rx="1.5" ry="0.6" fill="#222" opacity="0.15"/>
<ellipse cx="201.7" cy="469.7" rx="1.4" ry="0.5" fill="#ddd" opacity="0.06"/>
<ellipse cx="150.1" cy="470.0" rx="0.8" ry="0.6" fill="#222" opacity="0.06"/>
<ellipse cx="153.6" cy="470.5" rx="0.7" ry="0.6" fill="#222" opacity="0.14"/>
<ellipse cx="188.0" cy="467.9" rx="1.1" ry="0.8" fill="#ddd" opacity="0.08"/>
<ellipse cx="196.4" cy="471.4" rx="1.4" ry="0.5" fill="#222" opacity="0.09"/>
<ellipse cx="171.6" cy="468.1" rx="0.8" ry="0.5" fill="#222" opacity="0.08"/>
<ellipse cx="161.1" cy="472.1" rx="0.9" ry="0.6" fill="#222" opacity="0.18"/>
<ellipse cx="193.6" cy="467.9" rx="1.3" ry="0.9" fill="#222" opacity="0.06"/>
<ellipse cx="190.6" cy="471.7" rx="1.5" ry="0.4" fill="#ddd" opacity="0.09"/>
<ellipse cx="157.9" cy="467.6" rx="1.5" ry="0.6" fill="#222" opacity="0.16"/>
<ellipse cx="188.2" cy="468.1" rx="0.7" ry="0.7" fill="#222" opacity="0.13"/>
<ellipse cx="167.0" cy="468.8" rx="0.6" ry="0.9" fill="#222" opacity="0.05"/>
<ellipse cx="214.2" cy="472.3" rx="1.4" ry="0.6" fill="#222" opacity="0.10"/>
<ellipse cx="204.0" cy="466.9" rx="1.4" ry="0.7" fill="#222" opacity="0.06"/>
<ellipse cx="156.3" cy="469.0" rx="1.2" ry="0.4" fill="#222" opacity="0.07"/>
<ellipse cx="210.8" cy="469.1" rx="1.3" ry="0.6" fill="#222" opacity="0.06"/>
<ellipse cx="215.4" cy="472.1" rx="1.0" ry="0.8" fill="#ddd" opacity="0.18"/>
<ellipse cx="280.5" cy="467.7" rx="0.8" ry="0.4" fill="#ddd" opacity="0.17"/>
<ellipse cx="286.2" cy="471.7" rx="1.2" ry="0.6" fill="#ddd" opacity="0.15"/>
<ellipse cx="258.5" cy="466.7" rx="1.2" ry="0.9" fill="#222" opacity="0.06"/>
<ellipse cx="304.9" cy="468.8" rx="0.7" ry="0.5" fill="#222" opacity="0.12"/>
<ellipse cx="333.5" cy="467.1" rx="1.4" ry="0.8" fill="#ddd" opacity="0.15"/>
<ellipse cx="274.6" cy="471.8" rx="1.6" ry="0.6" fill="#222" opacity="0.06"/>
<ellipse cx="333.5" cy="468.9" rx="1.2" ry="0.8" fill="#222" opacity="0.13"/>
<ellipse cx="304.2" cy="467.7" rx="0.8" ry="0.5" fill="#ddd" opacity="0.10"/>
<ellipse cx="295.0" cy="468.9" rx="0.7" ry="0.9" fill="#222" opacity="0.16"/>
<ellipse cx="264.4" cy="472.1" rx="1.3" ry="0.6" fill="#222" opacity="0.10"/>
<ellipse cx="289.2" cy="471.9" rx="1.2" ry="0.6" fill="#222" opacity="0.08"/>
<ellipse cx="282.9" cy="468.8" rx="0.8" ry="0.4" fill="#ddd" opacity="0.18"/>
<ellipse cx="290.1" cy="469.3" rx="1.4" ry="0.8" fill="#ddd" opacity="0.10"/>
<ellipse cx="252.5" cy="468.7" rx="0.7" ry="0.6" fill="#222" opacity="0.12"/>
<ellipse cx="250.0" cy="470.5" rx="1.5" ry="0.6" fill="#222" opacity="0.14"/>
<ellipse cx="253.7" cy="471.3" rx="1.3" ry="0.8" fill="#ddd" opacity="0.05"/>
<ellipse cx="252.5" cy="470.4" rx="0.8" ry="0.9" fill="#222" opacity="0.11"/>
<ellipse cx="336.4" cy="472.4" rx="1.3" ry="0.8" fill="#222" opacity="0.08"/>
<ellipse cx="324.8" cy="470.4" rx="0.8" ry="0.8" fill="#222" opacity="0.09"/>
<ellipse cx="323.1" cy="467.3" rx="0.8" ry="0.5" fill="#ddd" opacity="0.12"/>
<ellipse cx="276.3" cy="466.6" rx="1.0" ry="0.7" fill="#222" opacity="0.09"/>
<ellipse cx="277.1" cy="468.8" rx="0.7" ry="0.7" fill="#222" opacity="0.13"/>
<ellipse cx="280.1" cy="472.1" rx="0.9" ry="0.7" fill="#222" opacity="0.16"/>
<ellipse cx="315.8" cy="468.8" rx="1.6" ry="0.7" fill="#ddd" opacity="0.10"/>
<ellipse cx="318.3" cy="469.3" rx="1.2" ry="0.9" fill="#222" opacity="0.09"/>
<ellipse cx="294.9" cy="468.4" rx="1.3" ry="0.8" fill="#222" opacity="0.08"/>
<ellipse cx="273.6" cy="470.5" rx="1.1" ry="0.8" fill="#ddd" opacity="0.07"/>
<ellipse cx="267.6" cy="470.6" rx="0.7" ry="0.7" fill="#222" opacity="0.09"/>
<ellipse cx="295.5" cy="469.9" rx="1.2" ry="0.7" fill="#ddd" opacity="0.08"/>
<ellipse cx="305.0" cy="469.5" rx="0.6" ry="0.8" fill="#222" opacity="0.14"/>
<ellipse cx="288.7" cy="466.8" rx="1.5" ry="0.8" fill="#222" opacity="0.10"/>
<ellipse cx="271.1" cy="466.5" rx="1.2" ry="0.7" fill="#222" opacity="0.13"/>
<ellipse cx="295.0" cy="469.6" rx="1.5" ry="0.4" fill="#222" opacity="0.12"/>
<ellipse cx="284.5" cy="467.9" rx="1.5" ry="0.5" fill="#222" opacity="0.13"/>
<ellipse cx="308.1" cy="467.7" rx="0.8" ry="0.7" fill="#ddd" opacity="0.12"/>
<ellipse cx="306.7" cy="471.7" rx="1.1" ry="0.4" fill="#222" opacity="0.13"/>
<ellipse cx="339.9" cy="471.1" rx="1.3" ry="0.4" fill="#ddd" opacity="0.16"/>
<ellipse cx="316.5" cy="469.4" rx="0.8" ry="0.9" fill="#ddd" opacity="0.08"/>
<ellipse cx="306.9" cy="467.2" rx="1.3" ry="0.5" fill="#222" opacity="0.12"/>
<ellipse cx="287.3" cy="471.5" rx="0.9" ry="0.9" fill="#222" opacity="0.17"/>
<ellipse cx="254.3" cy="469.7" rx="0.9" ry="0.5" fill="#222" opacity="0.15"/>
<ellipse cx="335.3" cy="471.2" rx="0.8" ry="0.6" fill="#222" opacity="0.13"/>
<ellipse cx="282.0" cy="471.9" rx="1.1" ry="0.7" fill="#ddd" opacity="0.05"/>
<ellipse cx="248.7" cy="472.6" rx="1.2" ry="0.6" fill="#222" opacity="0.08"/>
<ellipse cx="304.9" cy="466.9" rx="0.7" ry="0.4" fill="#222" opacity="0.06"/>
<ellipse cx="333.8" cy="468.6" rx="1.3" ry="0.4" fill="#222" opacity="0.07"/>
<ellipse cx="306.9" cy="466.7" rx="1.3" ry="0.4" fill="#222" opacity="0.13"/>
<ellipse cx="280.5" cy="471.7" rx="1.5" ry="0.8" fill="#222" opacity="0.14"/>
<ellipse cx="282.4" cy="468.0" rx="0.7" ry="0.4" fill="#222" opacity="0.16"/>
<ellipse cx="322.8" cy="470.5" rx="1.1" ry="0.5" fill="#222" opacity="0.15"/>
<ellipse cx="307.1" cy="468.3" rx="1.0" ry="0.4" fill="#222" opacity="0.08"/>
<ellipse cx="272.8" cy="471.1" rx="1.5" ry="0.8" fill="#222" opacity="0.13"/>
<ellipse cx="291.1" cy="468.3" rx="1.4" ry="0.4" fill="#222" opacity="0.12"/>
<ellipse cx="255.5" cy="469.4" rx="1.1" ry="0.5" fill="#222" opacity="0.16"/>
<ellipse cx="254.8" cy="471.7" rx="1.0" ry="0.7" fill="#222" opacity="0.09"/>
<ellipse cx="317.0" cy="466.8" rx="1.1" ry="0.6" fill="#222" opacity="0.15"/>
<ellipse cx="263.6" cy="469.6" rx="1.6" ry="0.7" fill="#222" opacity="0.13"/>
<ellipse cx="261.2" cy="471.7" rx="1.1" ry="0.5" fill="#222" opacity="0.13"/>
<ellipse cx="253.8" cy="471.5" rx="1.2" ry="0.6" fill="#222" opacity="0.10"/>
<ellipse cx="283.4" cy="472.2" rx="1.0" ry="0.7" fill="#222" opacity="0.10"/>
<ellipse cx="274.8" cy="469.2" rx="1.0" ry="0.8" fill="#222" opacity="0.08"/>
<ellipse cx="289.7" cy="469.9" rx="0.9" ry="0.6" fill="#222" opacity="0.07"/>
<ellipse cx="325.7" cy="470.7" rx="0.8" ry="0.6" fill="#222" opacity="0.15"/>
<ellipse cx="300.8" cy="467.2" rx="1.2" ry="0.7" fill="#ddd" opacity="0.12"/>
<ellipse cx="271.4" cy="471.3" rx="1.3" ry="0.9" fill="#222" opacity="0.14"/>
<ellipse cx="303.1" cy="468.7" rx="0.9" ry="0.5" fill="#222" opacity="0.18"/>
<ellipse cx="314.9" cy="467.1" rx="0.8" ry="0.5" fill="#222" opacity="0.07"/>
<ellipse cx="274.7" cy="468.3" rx="0.8" ry="0.7" fill="#222" opacity="0.06"/>
<ellipse cx="265.7" cy="468.9" rx="0.6" ry="0.8" fill="#222" opacity="0.11"/>
<ellipse cx="267.2" cy="472.8" rx="1.1" ry="0.5" fill="#222" opacity="0.13"/>
<ellipse cx="284.4" cy="471.2" rx="1.3" ry="0.7" fill="#ddd" opacity="0.13"/>
<ellipse cx="326.0" cy="470.7" rx="1.3" ry="0.7" fill="#222" opacity="0.11"/>
<ellipse cx="275.7" cy="470.5" rx="1.5" ry="0.5" fill="#222" opacity="0.10"/>
<ellipse cx="313.4" cy="467.4" rx="1.1" ry="0.4" fill="#ddd" opacity="0.16"/>
<ellipse cx="295.1" cy="470.7" rx="1.5" ry="0.6" fill="#222" opacity="0.05"/>
<ellipse cx="324.6" cy="472.3" rx="0.6" ry="0.7" fill="#222" opacity="0.07"/>
<ellipse cx="319.9" cy="472.5" rx="0.7" ry="0.7" fill="#222" opacity="0.12"/>
<ellipse cx="111.1" cy="482.1" rx="1.1" ry="0.6" fill="#222" opacity="0.17"/>
<ellipse cx="62.1" cy="483.3" rx="1.1" ry="0.9" fill="#ddd" opacity="0.14"/>
<ellipse cx="101.1" cy="483.0" rx="0.9" ry="0.6" fill="#222" opacity="0.05"/>
<ellipse cx="82.2" cy="481.5" rx="1.2" ry="0.5" fill="#222" opacity="0.09"/>
<ellipse cx="80.5" cy="485.1" rx="1.6" ry="0.9" fill="#222" opacity="0.11"/>
<ellipse cx="57.7" cy="484.9" rx="1.4" ry="0.7" fill="#222" opacity="0.11"/>
<ellipse cx="96.1" cy="480.2" rx="1.0" ry="0.7" fill="#222" opacity="0.16"/>
<ellipse cx="120.6" cy="481.8" rx="1.4" ry="0.7" fill="#222" opacity="0.15"/>
<ellipse cx="87.1" cy="484.0" rx="0.9" ry="0.6" fill="#222" opacity="0.08"/>
<ellipse cx="83.0" cy="479.9" rx="1.4" ry="0.8" fill="#222" opacity="0.10"/>
<ellipse cx="105.0" cy="480.8" rx="1.0" ry="0.7" fill="#ddd" opacity="0.14"/>
<ellipse cx="76.8" cy="484.9" rx="0.7" ry="0.8" fill="#ddd" opacity="0.17"/>
<ellipse cx="117.5" cy="479.6" rx="1.2" ry="0.4" fill="#222" opacity="0.05"/>
<ellipse cx="133.7" cy="483.1" rx="1.2" ry="0.7" fill="#222" opacity="0.16"/>
<ellipse cx="59.7" cy="481.7" rx="0.8" ry="0.6" fill="#222" opacity="0.12"/>
<ellipse cx="100.7" cy="483.3" rx="1.3" ry="0.8" fill="#222" opacity="0.15"/>
<ellipse cx="122.8" cy="480.0" rx="1.1" ry="0.8" fill="#222" opacity="0.11"/>
<ellipse cx="127.1" cy="482.4" rx="1.0" ry="0.8" fill="#222" opacity="0.11"/>
<ellipse cx="95.6" cy="481.9" rx="1.3" ry="0.5" fill="#222" opacity="0.07"/>
<ellipse cx="99.7" cy="483.6" rx="1.4" ry="0.6" fill="#222" opacity="0.12"/>
<ellipse cx="106.1" cy="484.3" rx="1.0" ry="0.9" fill="#222" opacity="0.14"/>
<ellipse cx="59.2" cy="481.1" rx="0.6" ry="0.4" fill="#222" opacity="0.15"/>
<ellipse cx="138.3" cy="484.1" rx="1.1" ry="0.6" fill="#222" opacity="0.17"/>
<ellipse cx="45.1" cy="483.5" rx="0.9" ry="0.8" fill="#222" opacity="0.10"/>
<ellipse cx="87.6" cy="482.2" rx="0.9" ry="0.6" fill="#222" opacity="0.08"/>
<ellipse cx="46.9" cy="480.6" rx="1.4" ry="0.6" fill="#222" opacity="0.12"/>
<ellipse cx="68.0" cy="482.1" rx="1.3" ry="0.8" fill="#222" opacity="0.09"/>
<ellipse cx="72.4" cy="480.7" rx="1.4" ry="0.4" fill="#222" opacity="0.14"/>
<ellipse cx="127.3" cy="482.4" rx="1.0" ry="0.5" fill="#222" opacity="0.06"/>
<ellipse cx="121.2" cy="481.9" rx="1.4" ry="0.9" fill="#222" opacity="0.13"/>
<ellipse cx="101.4" cy="482.9" rx="0.8" ry="0.7" fill="#222" opacity="0.11"/>
<ellipse cx="115.5" cy="479.4" rx="1.5" ry="0.6" fill="#222" opacity="0.06"/>
<ellipse cx="131.7" cy="478.8" rx="1.4" ry="0.7" fill="#222" opacity="0.08"/>
<ellipse cx="71.0" cy="481.5" rx="0.6" ry="0.7" fill="#222" opacity="0.13"/>
<ellipse cx="130.1" cy="482.0" rx="1.4" ry="0.8" fill="#222" opacity="0.10"/>
<ellipse cx="109.0" cy="481.4" rx="0.6" ry="0.6" fill="#222" opacity="0.13"/>
<ellipse cx="132.4" cy="485.3" rx="1.4" ry="0.7" fill="#ddd" opacity="0.06"/>
<ellipse cx="87.4" cy="484.7" rx="1.0" ry="0.4" fill="#222" opacity="0.14"/>
<ellipse cx="137.1" cy="484.5" rx="1.5" ry="0.5" fill="#222" opacity="0.05"/>
<ellipse cx="111.3" cy="480.3" rx="1.5" ry="0.6" fill="#222" opacity="0.15"/>
<ellipse cx="108.9" cy="479.7" rx="0.9" ry="0.7" fill="#222" opacity="0.11"/>
<ellipse cx="106.5" cy="484.7" rx="1.3" ry="0.4" fill="#222" opacity="0.05"/>
<ellipse cx="104.7" cy="484.2" rx="1.0" ry="0.6" fill="#222" opacity="0.13"/>
<ellipse cx="134.3" cy="484.3" rx="0.9" ry="0.9" fill="#222" opacity="0.14"/>
<ellipse cx="87.2" cy="479.8" rx="1.0" ry="0.7" fill="#222" opacity="0.13"/>
<ellipse cx="82.2" cy="481.3" rx="1.5" ry="0.8" fill="#ddd" opacity="0.12"/>
<ellipse cx="70.0" cy="479.1" rx="1.5" ry="0.8" fill="#222" opacity="0.05"/>
<ellipse cx="56.4" cy="484.3" rx="1.6" ry="0.5" fill="#ddd" opacity="0.10"/>
<ellipse cx="78.1" cy="483.9" rx="1.4" ry="0.5" fill="#222" opacity="0.05"/>
<ellipse cx="67.2" cy="481.5" rx="0.9" ry="0.5" fill="#222" opacity="0.17"/>
<ellipse cx="137.7" cy="479.7" rx="0.9" ry="0.4" fill="#ddd" opacity="0.12"/>
<ellipse cx="118.8" cy="480.0" rx="0.9" ry="0.4" fill="#222" opacity="0.10"/>
<ellipse cx="110.2" cy="484.9" rx="1.4" ry="0.6" fill="#222" opacity="0.06"/>
<ellipse cx="119.7" cy="483.9" rx="1.0" ry="0.7" fill="#222" opacity="0.08"/>
<ellipse cx="122.3" cy="480.9" rx="0.8" ry="0.5" fill="#222" opacity="0.07"/>
<ellipse cx="109.5" cy="481.1" rx="1.0" ry="0.7" fill="#222" opacity="0.07"/>
<ellipse cx="46.1" cy="485.4" rx="1.5" ry="0.6" fill="#222" opacity="0.11"/>
<ellipse cx="49.7" cy="480.8" rx="0.9" ry="0.7" fill="#222" opacity="0.05"/>
<ellipse cx="45.0" cy="485.3" rx="1.2" ry="0.5" fill="#ddd" opacity="0.17"/>
<ellipse cx="68.8" cy="479.4" rx="1.4" ry="0.8" fill="#ddd" opacity="0.18"/>
<ellipse cx="66.3" cy="479.0" rx="1.6" ry="0.6" fill="#222" opacity="0.05"/>
<ellipse cx="45.2" cy="481.2" rx="1.1" ry="0.8" fill="#ddd" opacity="0.17"/>
<ellipse cx="125.2" cy="483.0" rx="1.3" ry="0.4" fill="#222" opacity="0.09"/>
<ellipse cx="64.3" cy="479.3" rx="0.8" ry="0.8" fill="#ddd" opacity="0.10"/>
<ellipse cx="64.5" cy="483.5" rx="0.6" ry="0.5" fill="#222" opacity="0.10"/>
<ellipse cx="129.0" cy="484.8" rx="0.9" ry="0.7" fill="#222" opacity="0.15"/>
<ellipse cx="115.4" cy="481.9" rx="0.7" ry="0.8" fill="#222" opacity="0.17"/>
<ellipse cx="107.2" cy="480.7" rx="1.4" ry="0.5" fill="#ddd" opacity="0.09"/>
<ellipse cx="66.6" cy="479.5" rx="1.0" ry="0.6" fill="#ddd" opacity="0.15"/>
<ellipse cx="130.1" cy="484.7" rx="1.3" ry="0.5" fill="#ddd" opacity="0.05"/>
<ellipse cx="131.4" cy="480.2" rx="1.5" ry="0.5" fill="#222" opacity="0.11"/>
<ellipse cx="51.2" cy="484.9" rx="1.2" ry="0.6" fill="#222" opacity="0.09"/>
<ellipse cx="121.3" cy="481.9" rx="0.7" ry="0.5" fill="#222" opacity="0.06"/>
<ellipse cx="110.7" cy="482.4" rx="1.0" ry="0.5" fill="#222" opacity="0.10"/>
<ellipse cx="65.6" cy="478.9" rx="0.9" ry="0.5" fill="#222" opacity="0.11"/>
<ellipse cx="72.5" cy="484.8" rx="0.8" ry="0.7" fill="#222" opacity="0.13"/>
<ellipse cx="117.9" cy="484.9" rx="1.4" ry="0.5" fill="#ddd" opacity="0.15"/>
<ellipse cx="135.6" cy="481.6" rx="1.6" ry="0.9" fill="#222" opacity="0.06"/>
<ellipse cx="69.8" cy="484.7" rx="1.4" ry="0.9" fill="#222" opacity="0.07"/>
<ellipse cx="205.7" cy="481.7" rx="1.1" ry="0.6" fill="#222" opacity="0.15"/>
<ellipse cx="233.6" cy="480.6" rx="1.0" ry="0.9" fill="#222" opacity="0.08"/>
<ellipse cx="199.4" cy="479.6" rx="1.1" ry="0.5" fill="#222" opacity="0.07"/>
<ellipse cx="202.1" cy="484.3" rx="1.4" ry="0.5" fill="#ddd" opacity="0.07"/>
<ellipse cx="208.5" cy="482.9" rx="1.2" ry="0.5" fill="#222" opacity="0.06"/>
<ellipse cx="214.3" cy="481.4" rx="1.1" ry="0.6" fill="#222" opacity="0.09"/>
<ellipse cx="205.7" cy="485.0" rx="0.6" ry="0.9" fill="#222" opacity="0.11"/>
<ellipse cx="227.1" cy="480.5" rx="1.2" ry="0.9" fill="#222" opacity="0.05"/>
<ellipse cx="211.5" cy="482.6" rx="1.0" ry="0.9" fill="#222" opacity="0.18"/>
<ellipse cx="153.5" cy="481.1" rx="1.4" ry="0.8" fill="#222" opacity="0.09"/>
<ellipse cx="212.3" cy="481.3" rx="0.9" ry="0.5" fill="#222" opacity="0.15"/>
<ellipse cx="188.0" cy="478.9" rx="0.6" ry="0.9" fill="#222" opacity="0.08"/>
<ellipse cx="163.7" cy="479.4" rx="1.2" ry="0.9" fill="#222" opacity="0.05"/>
<ellipse cx="232.0" cy="483.6" rx="0.6" ry="0.7" fill="#222" opacity="0.12"/>
<ellipse cx="195.0" cy="483.4" rx="1.0" ry="0.4" fill="#222" opacity="0.07"/>
<ellipse cx="172.1" cy="481.8" rx="0.7" ry="0.5" fill="#222" opacity="0.16"/>
<ellipse cx="196.7" cy="480.2" rx="0.7" ry="0.7" fill="#222" opacity="0.15"/>
<ellipse cx="162.1" cy="484.2" rx="1.3" ry="0.7" fill="#ddd" opacity="0.13"/>
<ellipse cx="150.3" cy="485.2" rx="1.4" ry="0.6" fill="#222" opacity="0.08"/>
<ellipse cx="177.8" cy="481.6" rx="1.4" ry="0.8" fill="#222" opacity="0.06"/>
<ellipse cx="194.5" cy="485.1" rx="0.8" ry="0.6" fill="#222" opacity="0.13"/>
<ellipse cx="180.5" cy="482.3" rx="0.9" ry="0.5" fill="#222" opacity="0.14"/>
<ellipse cx="167.7" cy="481.5" rx="1.4" ry="0.9" fill="#ddd" opacity="0.13"/>
<ellipse cx="221.3" cy="484.6" rx="0.6" ry="0.7" fill="#222" opacity="0.08"/>
<ellipse cx="209.3" cy="480.5" rx="1.2" ry="0.5" fill="#222" opacity="0.12"/>
<ellipse cx="186.8" cy="485.1" rx="0.7" ry="0.6" fill="#222" opacity="0.07"/>
<ellipse cx="152.5" cy="485.1" rx="0.7" ry="0.7" fill="#222" opacity="0.17"/>
<ellipse cx="187.4" cy="482.1" rx="1.5" ry="0.7" fill="#222" opacity="0.09"/>
<ellipse cx="214.6" cy="483.7" rx="1.4" ry="0.7" fill="#222" opacity="0.12"/>
<ellipse cx="206.7" cy="480.0" rx="1.1" ry="0.7" fill="#222" opacity="0.13"/>
<ellipse cx="190.1" cy="480.8" rx="0.9" ry="0.5" fill="#222" opacity="0.12"/>
<ellipse cx="236.0" cy="481.4" rx="0.8" ry="0.9" fill="#222" opacity="0.09"/>
<ellipse cx="176.9" cy="480.5" rx="0.9" ry="0.8" fill="#222" opacity="0.07"/>
<ellipse cx="153.1" cy="484.5" rx="1.3" ry="0.7" fill="#ddd" opacity="0.16"/>
<ellipse cx="179.5" cy="483.8" rx="1.6" ry="0.7" fill="#222" opacity="0.17"/>
<ellipse cx="185.3" cy="483.2" rx="1.3" ry="0.7" fill="#222" opacity="0.16"/>
<ellipse cx="222.4" cy="482.2" rx="0.9" ry="0.7" fill="#ddd" opacity="0.13"/>
<ellipse cx="211.6" cy="481.5" rx="0.6" ry="0.8" fill="#222" opacity="0.13"/>
<ellipse cx="192.7" cy="485.2" rx="1.0" ry="0.8" fill="#222" opacity="0.16"/>
<ellipse cx="202.8" cy="481.2" rx="1.3" ry="0.5" fill="#ddd" opacity="0.10"/>
<ellipse cx="179.4" cy="482.2" rx="1.2" ry="0.4" fill="#ddd" opacity="0.15"/>
<ellipse cx="237.9" cy="481.3" rx="0.8" ry="0.6" fill="#222" opacity="0.07"/>
<ellipse cx="199.8" cy="482.6" rx="1.4" ry="0.6" fill="#222" opacity="0.18"/>
<ellipse cx="202.8" cy="480.3" rx="0.8" ry="0.6" fill="#222" opacity="0.17"/>
<ellipse cx="148.0" cy="479.0" rx="0.9" ry="0.7" fill="#ddd" opacity="0.09"/>
<ellipse cx="203.9" cy="481.6" rx="1.0" ry="0.6" fill="#ddd" opacity="0.13"/>
<ellipse cx="179.2" cy="485.1" rx="1.1" ry="0.4" fill="#222" opacity="0.10"/>
<ellipse cx="183.8" cy="482.5" rx="1.5" ry="0.9" fill="#222" opacity="0.11"/>
<ellipse cx="187.4" cy="482.9" rx="1.3" ry="0.8" fill="#222" opacity="0.06"/>
<ellipse cx="180.3" cy="481.2" rx="1.4" ry="0.7" fill="#222" opacity="0.06"/>
<ellipse cx="229.1" cy="483.3" rx="1.2" ry="0.7" fill="#ddd" opacity="0.16"/>
<ellipse cx="166.1" cy="484.7" rx="0.8" ry="0.7" fill="#ddd" opacity="0.13"/>
<ellipse cx="179.4" cy="485.4" rx="1.3" ry="0.4" fill="#222" opacity="0.05"/>
<ellipse cx="212.2" cy="482.4" rx="1.0" ry="0.4" fill="#222" opacity="0.05"/>
<ellipse cx="149.7" cy="479.9" rx="1.5" ry="0.8" fill="#222" opacity="0.12"/>
<ellipse cx="160.2" cy="480.0" rx="0.7" ry="0.7" fill="#222" opacity="0.12"/>
<ellipse cx="149.7" cy="479.2" rx="1.4" ry="0.7" fill="#ddd" opacity="0.15"/>
<ellipse cx="152.7" cy="478.8" rx="0.7" ry="0.5" fill="#222" opacity="0.09"/>
<ellipse cx="150.0" cy="482.9" rx="0.9" ry="0.6" fill="#222" opacity="0.10"/>
<ellipse cx="152.0" cy="484.7" rx="1.0" ry="0.7" fill="#222" opacity="0.08"/>
<ellipse cx="151.0" cy="484.9" rx="0.9" ry="0.8" fill="#222" opacity="0.16"/>
<ellipse cx="174.9" cy="482.7" rx="1.6" ry="0.4" fill="#ddd" opacity="0.14"/>
<ellipse cx="209.0" cy="482.6" rx="0.9" ry="0.8" fill="#ddd" opacity="0.11"/>
<ellipse cx="219.8" cy="480.3" rx="0.8" ry="0.6" fill="#222" opacity="0.05"/>
<ellipse cx="228.0" cy="481.4" rx="0.7" ry="0.7" fill="#222" opacity="0.10"/>
<ellipse cx="184.0" cy="479.1" rx="1.0" ry="0.9" fill="#222" opacity="0.12"/>
<ellipse cx="182.6" cy="481.8" rx="0.8" ry="0.4" fill="#222" opacity="0.14"/>
<ellipse cx="178.3" cy="479.7" rx="0.7" ry="0.5" fill="#222" opacity="0.16"/>
<ellipse cx="158.7" cy="481.7" rx="0.8" ry="0.6" fill="#222" opacity="0.14"/>
<ellipse cx="181.6" cy="485.1" rx="0.9" ry="0.6" fill="#222" opacity="0.08"/>
<ellipse cx="225.8" cy="483.2" rx="1.2" ry="0.6" fill="#222" opacity="0.18"/>
<ellipse cx="196.1" cy="481.4" rx="0.7" ry="0.8" fill="#222" opacity="0.14"/>
<ellipse cx="155.4" cy="484.4" rx="0.6" ry="0.8" fill="#ddd" opacity="0.07"/>
<ellipse cx="148.4" cy="483.5" rx="1.4" ry="0.5" fill="#222" opacity="0.07"/>
<ellipse cx="228.8" cy="479.2" rx="1.4" ry="0.8" fill="#222" opacity="0.08"/>
<ellipse cx="314.0" cy="479.3" rx="0.7" ry="0.8" fill="#222" opacity="0.09"/>
<ellipse cx="284.2" cy="484.8" rx="1.5" ry="0.5" fill="#222" opacity="0.10"/>
<ellipse cx="321.6" cy="483.3" rx="0.6" ry="0.8" fill="#ddd" opacity="0.11"/>
<ellipse cx="340.5" cy="481.4" rx="0.8" ry="0.5" fill="#222" opacity="0.17"/>
<ellipse cx="315.4" cy="483.5" rx="1.0" ry="0.7" fill="#222" opacity="0.11"/>
<ellipse cx="317.6" cy="479.7" rx="1.2" ry="0.7" fill="#222" opacity="0.17"/>
<ellipse cx="299.4" cy="480.2" rx="1.3" ry="0.5" fill="#ddd" opacity="0.11"/>
<ellipse cx="310.7" cy="481.0" rx="0.7" ry="0.8" fill="#222" opacity="0.14"/>
<ellipse cx="331.2" cy="484.6" rx="1.6" ry="0.7" fill="#222" opacity="0.05"/>
<ellipse cx="276.2" cy="483.9" rx="1.3" ry="0.4" fill="#222" opacity="0.14"/>
<ellipse cx="283.3" cy="483.7" rx="0.9" ry="0.4" fill="#222" opacity="0.17"/>
<ellipse cx="286.2" cy="484.9" rx="1.1" ry="0.7" fill="#ddd" opacity="0.08"/>
<ellipse cx="309.7" cy="484.4" rx="1.1" ry="0.5" fill="#222" opacity="0.17"/>
<ellipse cx="324.0" cy="482.4" rx="1.1" ry="0.9" fill="#222" opacity="0.13"/>
<ellipse cx="297.5" cy="480.4" rx="0.8" ry="0.6" fill="#222" opacity="0.06"/>
<ellipse cx="306.2" cy="479.6" rx="1.3" ry="0.5" fill="#ddd" opacity="0.08"/>
<ellipse cx="294.8" cy="481.7" rx="1.3" ry="0.5" fill="#222" opacity="0.14"/>
<ellipse cx="301.6" cy="480.3" rx="1.1" ry="0.8" fill="#222" opacity="0.07"/>
<ellipse cx="309.1" cy="482.7" rx="1.4" ry="0.6" fill="#ddd" opacity="0.08"/>
<ellipse cx="311.3" cy="478.8" rx="0.8" ry="0.4" fill="#ddd" opacity="0.09"/>
<ellipse cx="264.8" cy="483.4" rx="1.6" ry="0.5" fill="#ddd" opacity="0.11"/>
<ellipse cx="299.9" cy="480.6" rx="0.6" ry="0.6" fill="#222" opacity="0.18"/>
<ellipse cx="292.0" cy="483.7" rx="1.6" ry="0.7" fill="#222" opacity="0.06"/>
<ellipse cx="292.3" cy="481.6" rx="1.4" ry="0.6" fill="#222" opacity="0.10"/>
<ellipse cx="254.8" cy="480.6" rx="1.3" ry="0.4" fill="#222" opacity="0.15"/>
<ellipse cx="248.6" cy="481.3" rx="0.9" ry="0.5" fill="#222" opacity="0.13"/>
<ellipse cx="326.0" cy="484.9" rx="0.7" ry="0.8" fill="#222" opacity="0.09"/>
<ellipse cx="304.4" cy="481.2" rx="0.9" ry="0.6" fill="#222" opacity="0.12"/>
<ellipse cx="281.0" cy="484.3" rx="0.7" ry="0.5" fill="#222" opacity="0.15"/>
<ellipse cx="333.1" cy="485.4" rx="1.5" ry="0.9" fill="#ddd" opacity="0.11"/>
<ellipse cx="293.3" cy="479.8" rx="1.2" ry="0.7" fill="#222" opacity="0.07"/>
<ellipse cx="267.7" cy="479.6" rx="0.7" ry="0.4" fill="#ddd" opacity="0.11"/>
<ellipse cx="264.2" cy="483.5" rx="0.6" ry="0.7" fill="#222" opacity="0.16"/>
<ellipse cx="294.4" cy="479.7" rx="1.3" ry="0.7" fill="#222" opacity="0.10"/>
<ellipse cx="278.1" cy="481.6" rx="1.5" ry="0.5" fill="#222" opacity="0.09"/>
<ellipse cx="288.0" cy="482.5" rx="1.2" ry="0.6" fill="#222" opacity="0.12"/>
<ellipse cx="294.9" cy="481.6" rx="1.6" ry="0.9" fill="#222" opacity="0.13"/>
<ellipse cx="322.7" cy="479.1" rx="1.2" ry="0.5" fill="#222" opacity="0.12"/>
<ellipse cx="336.1" cy="481.9" rx="0.9" ry="0.6" fill="#222" opacity="0.17"/>
<ellipse cx="248.8" cy="480.0" rx="1.3" ry="0.5" fill="#ddd" opacity="0.13"/>
<ellipse cx="298.5" cy="485.0" rx="1.1" ry="0.7" fill="#222" opacity="0.10"/>
<ellipse cx="257.0" cy="479.9" rx="1.1" ry="0.5" fill="#222" opacity="0.16"/>
<ellipse cx="270.1" cy="479.3" rx="1.3" ry="0.5" fill="#222" opacity="0.11"/>
<ellipse cx="297.2" cy="483.4" rx="1.5" ry="0.7" fill="#222" opacity="0.15"/>
<ellipse cx="258.9" cy="482.1" rx="1.2" ry="0.9" fill="#222" opacity="0.12"/>
<ellipse cx="289.6" cy="483.3" rx="1.6" ry="0.5" fill="#222" opacity="0.11"/>
<ellipse cx="255.0" cy="481.2" rx="1.0" ry="0.4" fill="#222" opacity="0.06"/>
<ellipse cx="312.4" cy="485.1" rx="0.9" ry="0.8" fill="#ddd" opacity="0.11"/>
<ellipse cx="330.0" cy="482.9" rx="1.2" ry="0.9" fill="#222" opacity="0.16"/>
<ellipse cx="262.0" cy="483.7" rx="1.4" ry="0.8" fill="#222" opacity="0.05"/>
<ellipse cx="270.3" cy="480.3" rx="1.3" ry="0.4" fill="#222" opacity="0.13"/>
<ellipse cx="255.6" cy="482.4" rx="0.6" ry="0.9" fill="#222" opacity="0.08"/>
<ellipse cx="279.6" cy="483.3" rx="1.4" ry="0.7" fill="#222" opacity="0.06"/>
<ellipse cx="248.2" cy="479.4" rx="0.8" ry="0.7" fill="#222" opacity="0.09"/>
<ellipse cx="311.0" cy="481.3" rx="1.2" ry="0.5" fill="#222" opacity="0.18"/>
<ellipse cx="318.0" cy="480.5" rx="0.6" ry="0.6" fill="#ddd" opacity="0.07"/>
<ellipse cx="293.5" cy="484.5" rx="0.7" ry="0.7" fill="#222" opacity="0.13"/>
<ellipse cx="302.8" cy="484.3" rx="1.3" ry="0.6" fill="#222" opacity="0.08"/>
<ellipse cx="336.5" cy="482.2" rx="0.9" ry="0.5" fill="#222" opacity="0.17"/>
<ellipse cx="301.8" cy="479.0" rx="1.4" ry="0.8" fill="#222" opacity="0.09"/>
<ellipse cx="290.4" cy="485.0" rx="0.6" ry="0.7" fill="#222" opacity="0.09"/>
<ellipse cx="248.1" cy="481.8" rx="1.2" ry="0.8" fill="#222" opacity="0.07"/>
<ellipse cx="282.5" cy="479.1" rx="1.0" ry="0.7" fill="#222" opacity="0.13"/>
<ellipse cx="259.3" cy="483.4" rx="1.5" ry="0.8" fill="#222" opacity="0.13"/>
<ellipse cx="306.0" cy="481.1" rx="1.4" ry="0.5" fill="#222" opacity="0.15"/>
<ellipse cx="259.5" cy="479.2" rx="1.3" ry="0.7" fill="#222" opacity="0.13"/>
<ellipse cx="279.2" cy="482.4" rx="0.9" ry="0.8" fill="#ddd" opacity="0.14"/>
<ellipse cx="329.5" cy="483.9" rx="1.5" ry="0.8" fill="#222" opacity="0.18"/>
<ellipse cx="260.4" cy="480.1" rx="1.0" ry="0.6" fill="#ddd" opacity="0.15"/>
<ellipse cx="333.8" cy="482.6" rx="0.9" ry="0.6" fill="#222" opacity="0.14"/>
<ellipse cx="298.2" cy="485.0" rx="0.7" ry="0.5" fill="#222" opacity="0.17"/>
<ellipse cx="301.4" cy="480.7" rx="1.6" ry="0.6" fill="#222" opacity="0.15"/>
<ellipse cx="286.6" cy="484.5" rx="1.4" ry="0.6" fill="#222" opacity="0.07"/>
<ellipse cx="330.9" cy="482.4" rx="1.2" ry="0.5" fill="#222" opacity="0.05"/>
<ellipse cx="250.7" cy="481.7" rx="1.5" ry="0.7" fill="#222" opacity="0.08"/>
<ellipse cx="315.4" cy="485.2" rx="0.7" ry="0.8" fill="#222" opacity="0.16"/>
<ellipse cx="278.4" cy="479.6" rx="0.9" ry="0.7" fill="#222" opacity="0.05"/>
<ellipse cx="52.9" cy="482.6" rx="1.6" ry="1.3" fill="#111" opacity="0.85"/>
<ellipse cx="211.9" cy="467.5" rx="1.3" ry="1.7" fill="#111" opacity="0.9"/>
<ellipse cx="133" cy="471.8" rx="4" ry="1.1" fill="#222" opacity="0.6"/>
<ellipse cx="149" cy="467.8" rx="3" ry="1.2" fill="#222" opacity="0.6"/>
</g>
<rect x="40.8" y="510.8" width="99.10" height="10.60" fill="url(#ga)"/>
<rect x="40.8" y="525.0" width="99.10" height="10.20" fill="url(#ga)"/>
<rect x="146" y="510.8" width="94.30" height="10.60" fill="url(#ga)"/>
<rect x="146" y="525.0" width="94.30" height="10.20" fill="url(#ga)"/>
<rect x="245.2" y="510.8" width="96.80" height="10.60" fill="url(#ga3)"/>
<rect x="245.2" y="525.0" width="96.80" height="10.20" fill="url(#ga)"/>
<g filter="url(#bl2)">
<rect x="42.1" y="514.6" width="13.7" height="2.8" rx="1.4" fill="#111"/>
<rect x="59.9" y="514.6" width="13.2" height="2.8" rx="1.4" fill="#111"/>
<rect x="76.7" y="514.6" width="13.6" height="2.9" rx="1.4" fill="#111"/>
<rect x="94.6" y="514.8" width="13.2" height="3.0" rx="1.5" fill="#111"/>
<rect x="111.7" y="514.9" width="12.3" height="3.0" rx="1.5" fill="#111"/>
<rect x="128.0" y="515.0" width="11.4" height="3.0" rx="1.5" fill="#111"/>
<rect x="146.5" y="515.3" width="12.8" height="3.4" rx="1.7" fill="#111"/>
<rect x="162.8" y="515.5" width="12.3" height="3.4" rx="1.7" fill="#111"/>
<rect x="178.6" y="515.4" width="13.2" height="3.6" rx="1.8" fill="#111"/>
<rect x="194.4" y="515.3" width="13.1" height="4" rx="2.0" fill="#111"/>
<rect x="210.2" y="515.3" width="13.1" height="4" rx="2.0" fill="#111"/>
<rect x="226.0" y="515.3" width="13.1" height="4" rx="2.0" fill="#111"/>
<rect x="245.3" y="516.0" width="12.2" height="4" rx="2.0" fill="#111"/>
<rect x="261.0" y="516.1" width="12.3" height="3.8" rx="1.9" fill="#111"/>
<rect x="277.7" y="516.1" width="12.3" height="3.8" rx="1.9" fill="#111"/>
<rect x="293.4" y="516.0" width="12.3" height="3.8" rx="1.9" fill="#111"/>
<rect x="310.0" y="516.0" width="12.4" height="3.8" rx="1.9" fill="#111"/>
<rect x="325.5" y="515.5" width="14.4" height="4.8" rx="2.4" fill="#111"/>
<rect x="41.2" y="529.0" width="12.6" height="3.6" rx="1.8" fill="#111" opacity="1"/>
<rect x="56.7" y="528.7" width="14.2" height="3.8" rx="1.9" fill="#111" opacity="1"/>
<rect x="74.5" y="528.8" width="13.5" height="3.6" rx="1.8" fill="#111" opacity="1"/>
<rect x="92.9" y="528.5" width="14.0" height="3.4" rx="1.7" fill="#111" opacity="1"/>
<rect x="109.6" y="528.3" width="13.1" height="3.4" rx="1.7" fill="#111" opacity="1"/>
<rect x="126.2" y="528.2" width="12.3" height="3.2" rx="1.6" fill="#111" opacity="1"/>
<rect x="146.5" y="527.7" width="11.9" height="3.4" rx="1.7" fill="#111" opacity="1"/>
<rect x="163.7" y="528.4" width="10.5" height="2.8" rx="1.4" fill="#111" opacity="0.95"/>
<rect x="178.6" y="528.3" width="11.4" height="2.6" rx="1.3" fill="#111" opacity="0.9"/>
<rect x="194.4" y="528.0" width="12.3" height="2.8" rx="1.4" fill="#111" opacity="0.95"/>
<rect x="210.7" y="528.0" width="11.8" height="2.8" rx="1.4" fill="#111" opacity="0.95"/>
<rect x="226.8" y="528.4" width="11.4" height="2.5" rx="1.2" fill="#111" opacity="0.75"/>
<rect x="246.1" y="529.1" width="11.4" height="2.8" rx="1.4" fill="#111" opacity="1"/>
<rect x="262.0" y="529.1" width="11.3" height="2.8" rx="1.4" fill="#111" opacity="1"/>
<rect x="278.6" y="529.0" width="11.4" height="2.8" rx="1.4" fill="#111" opacity="1"/>
<rect x="294.3" y="528.9" width="12.3" height="2.8" rx="1.4" fill="#111" opacity="1"/>
<rect x="311.0" y="528.8" width="12.2" height="2.8" rx="1.4" fill="#111" opacity="1"/>
<rect x="328.5" y="528.8" width="12.3" height="2.8" rx="1.4" fill="#111" opacity="1"/>
</g>
</svg></body></html>
